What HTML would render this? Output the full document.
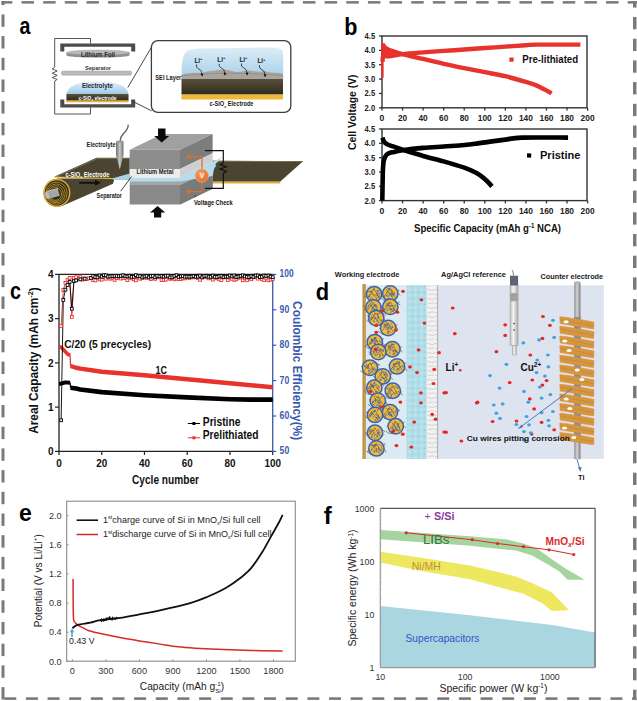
<!DOCTYPE html>
<html><head><meta charset="utf-8"><style>
html,body{margin:0;padding:0;background:#fff;width:637px;height:701px;overflow:hidden}
svg{display:block;font-family:"Liberation Sans", sans-serif}
</style></head><body>
<svg width="637" height="701" viewBox="0 0 637 701">
<rect width="637" height="701" fill="#fff"/>
<rect x="1.50" y="1.1" width="10.85" height="2.5" fill="#7a7a7a"/>
<rect x="21.50" y="1.1" width="12.50" height="2.5" fill="#7a7a7a"/>
<rect x="43.15" y="1.1" width="12.50" height="2.5" fill="#7a7a7a"/>
<rect x="64.80" y="1.1" width="12.50" height="2.5" fill="#7a7a7a"/>
<rect x="86.45" y="1.1" width="12.50" height="2.5" fill="#7a7a7a"/>
<rect x="108.10" y="1.1" width="12.50" height="2.5" fill="#7a7a7a"/>
<rect x="129.75" y="1.1" width="12.50" height="2.5" fill="#7a7a7a"/>
<rect x="151.40" y="1.1" width="12.50" height="2.5" fill="#7a7a7a"/>
<rect x="173.05" y="1.1" width="12.50" height="2.5" fill="#7a7a7a"/>
<rect x="194.70" y="1.1" width="12.50" height="2.5" fill="#7a7a7a"/>
<rect x="216.35" y="1.1" width="12.50" height="2.5" fill="#7a7a7a"/>
<rect x="238.00" y="1.1" width="12.50" height="2.5" fill="#7a7a7a"/>
<rect x="259.65" y="1.1" width="12.50" height="2.5" fill="#7a7a7a"/>
<rect x="281.30" y="1.1" width="12.50" height="2.5" fill="#7a7a7a"/>
<rect x="302.95" y="1.1" width="12.50" height="2.5" fill="#7a7a7a"/>
<rect x="324.60" y="1.1" width="12.50" height="2.5" fill="#7a7a7a"/>
<rect x="346.25" y="1.1" width="12.50" height="2.5" fill="#7a7a7a"/>
<rect x="367.90" y="1.1" width="12.50" height="2.5" fill="#7a7a7a"/>
<rect x="389.55" y="1.1" width="12.50" height="2.5" fill="#7a7a7a"/>
<rect x="411.20" y="1.1" width="12.50" height="2.5" fill="#7a7a7a"/>
<rect x="432.85" y="1.1" width="12.50" height="2.5" fill="#7a7a7a"/>
<rect x="454.50" y="1.1" width="12.50" height="2.5" fill="#7a7a7a"/>
<rect x="476.15" y="1.1" width="12.50" height="2.5" fill="#7a7a7a"/>
<rect x="497.80" y="1.1" width="12.50" height="2.5" fill="#7a7a7a"/>
<rect x="519.45" y="1.1" width="12.50" height="2.5" fill="#7a7a7a"/>
<rect x="541.10" y="1.1" width="12.50" height="2.5" fill="#7a7a7a"/>
<rect x="562.75" y="1.1" width="12.50" height="2.5" fill="#7a7a7a"/>
<rect x="584.40" y="1.1" width="12.50" height="2.5" fill="#7a7a7a"/>
<rect x="606.05" y="1.1" width="12.50" height="2.5" fill="#7a7a7a"/>
<rect x="627.70" y="1.1" width="9.30" height="2.5" fill="#7a7a7a"/>
<rect x="1.5" y="1.10" width="3" height="4.00" fill="#7a7a7a"/>
<rect x="1.5" y="14.40" width="3" height="12.40" fill="#7a7a7a"/>
<rect x="1.5" y="36.10" width="3" height="12.40" fill="#7a7a7a"/>
<rect x="1.5" y="57.80" width="3" height="12.40" fill="#7a7a7a"/>
<rect x="1.5" y="79.50" width="3" height="12.40" fill="#7a7a7a"/>
<rect x="1.5" y="101.20" width="3" height="12.40" fill="#7a7a7a"/>
<rect x="1.5" y="122.90" width="3" height="12.40" fill="#7a7a7a"/>
<rect x="1.5" y="144.60" width="3" height="12.40" fill="#7a7a7a"/>
<rect x="1.5" y="166.30" width="3" height="12.40" fill="#7a7a7a"/>
<rect x="1.5" y="188.00" width="3" height="12.40" fill="#7a7a7a"/>
<rect x="1.5" y="209.70" width="3" height="12.40" fill="#7a7a7a"/>
<rect x="1.5" y="231.40" width="3" height="12.40" fill="#7a7a7a"/>
<rect x="1.5" y="253.10" width="3" height="12.40" fill="#7a7a7a"/>
<rect x="1.5" y="274.80" width="3" height="12.40" fill="#7a7a7a"/>
<rect x="1.5" y="296.50" width="3" height="12.40" fill="#7a7a7a"/>
<rect x="1.5" y="318.20" width="3" height="12.40" fill="#7a7a7a"/>
<rect x="1.5" y="339.90" width="3" height="12.40" fill="#7a7a7a"/>
<rect x="1.5" y="361.60" width="3" height="12.40" fill="#7a7a7a"/>
<rect x="1.5" y="383.30" width="3" height="12.40" fill="#7a7a7a"/>
<rect x="1.5" y="405.00" width="3" height="12.40" fill="#7a7a7a"/>
<rect x="1.5" y="426.70" width="3" height="12.40" fill="#7a7a7a"/>
<rect x="1.5" y="448.40" width="3" height="12.40" fill="#7a7a7a"/>
<rect x="1.5" y="470.10" width="3" height="12.40" fill="#7a7a7a"/>
<rect x="1.5" y="491.80" width="3" height="12.40" fill="#7a7a7a"/>
<rect x="1.5" y="513.50" width="3" height="12.40" fill="#7a7a7a"/>
<rect x="1.5" y="535.20" width="3" height="12.40" fill="#7a7a7a"/>
<rect x="1.5" y="556.90" width="3" height="12.40" fill="#7a7a7a"/>
<rect x="1.5" y="578.60" width="3" height="12.40" fill="#7a7a7a"/>
<rect x="1.5" y="600.30" width="3" height="12.40" fill="#7a7a7a"/>
<rect x="1.5" y="622.00" width="3" height="12.40" fill="#7a7a7a"/>
<rect x="1.5" y="643.70" width="3" height="12.40" fill="#7a7a7a"/>
<rect x="1.5" y="665.40" width="3" height="12.40" fill="#7a7a7a"/>
<rect x="1.5" y="687.10" width="3" height="12.40" fill="#7a7a7a"/>
<rect x="633" y="1.10" width="3.5" height="6.50" fill="#7a7a7a"/>
<rect x="633" y="17.00" width="3.5" height="12.30" fill="#7a7a7a"/>
<rect x="633" y="38.70" width="3.5" height="12.30" fill="#7a7a7a"/>
<rect x="633" y="60.40" width="3.5" height="12.30" fill="#7a7a7a"/>
<rect x="633" y="82.10" width="3.5" height="12.30" fill="#7a7a7a"/>
<rect x="633" y="103.80" width="3.5" height="12.30" fill="#7a7a7a"/>
<rect x="633" y="125.50" width="3.5" height="12.30" fill="#7a7a7a"/>
<rect x="633" y="147.20" width="3.5" height="12.30" fill="#7a7a7a"/>
<rect x="633" y="168.90" width="3.5" height="12.30" fill="#7a7a7a"/>
<rect x="633" y="190.60" width="3.5" height="12.30" fill="#7a7a7a"/>
<rect x="633" y="212.30" width="3.5" height="12.30" fill="#7a7a7a"/>
<rect x="633" y="234.00" width="3.5" height="12.30" fill="#7a7a7a"/>
<rect x="633" y="255.70" width="3.5" height="12.30" fill="#7a7a7a"/>
<rect x="633" y="277.40" width="3.5" height="12.30" fill="#7a7a7a"/>
<rect x="633" y="299.10" width="3.5" height="12.30" fill="#7a7a7a"/>
<rect x="633" y="320.80" width="3.5" height="12.30" fill="#7a7a7a"/>
<rect x="633" y="342.50" width="3.5" height="12.30" fill="#7a7a7a"/>
<rect x="633" y="364.20" width="3.5" height="12.30" fill="#7a7a7a"/>
<rect x="633" y="385.90" width="3.5" height="12.30" fill="#7a7a7a"/>
<rect x="633" y="407.60" width="3.5" height="12.30" fill="#7a7a7a"/>
<rect x="633" y="429.30" width="3.5" height="12.30" fill="#7a7a7a"/>
<rect x="633" y="451.00" width="3.5" height="12.30" fill="#7a7a7a"/>
<rect x="633" y="472.70" width="3.5" height="12.30" fill="#7a7a7a"/>
<rect x="633" y="494.40" width="3.5" height="12.30" fill="#7a7a7a"/>
<rect x="633" y="516.10" width="3.5" height="12.30" fill="#7a7a7a"/>
<rect x="633" y="537.80" width="3.5" height="12.30" fill="#7a7a7a"/>
<rect x="633" y="559.50" width="3.5" height="12.30" fill="#7a7a7a"/>
<rect x="633" y="581.20" width="3.5" height="12.30" fill="#7a7a7a"/>
<rect x="633" y="602.90" width="3.5" height="12.30" fill="#7a7a7a"/>
<rect x="633" y="624.60" width="3.5" height="12.30" fill="#7a7a7a"/>
<rect x="633" y="646.30" width="3.5" height="12.30" fill="#7a7a7a"/>
<rect x="633" y="668.00" width="3.5" height="12.30" fill="#7a7a7a"/>
<rect x="633" y="689.70" width="3.5" height="10.20" fill="#7a7a7a"/>
<rect x="4.25" y="697.3" width="12.00" height="2.6" fill="#7a7a7a"/>
<rect x="25.90" y="697.3" width="12.00" height="2.6" fill="#7a7a7a"/>
<rect x="47.55" y="697.3" width="12.00" height="2.6" fill="#7a7a7a"/>
<rect x="69.20" y="697.3" width="12.00" height="2.6" fill="#7a7a7a"/>
<rect x="90.85" y="697.3" width="12.00" height="2.6" fill="#7a7a7a"/>
<rect x="112.50" y="697.3" width="12.00" height="2.6" fill="#7a7a7a"/>
<rect x="134.15" y="697.3" width="12.00" height="2.6" fill="#7a7a7a"/>
<rect x="155.80" y="697.3" width="12.00" height="2.6" fill="#7a7a7a"/>
<rect x="177.45" y="697.3" width="12.00" height="2.6" fill="#7a7a7a"/>
<rect x="199.10" y="697.3" width="12.00" height="2.6" fill="#7a7a7a"/>
<rect x="220.75" y="697.3" width="12.00" height="2.6" fill="#7a7a7a"/>
<rect x="242.40" y="697.3" width="12.00" height="2.6" fill="#7a7a7a"/>
<rect x="264.05" y="697.3" width="12.00" height="2.6" fill="#7a7a7a"/>
<rect x="285.70" y="697.3" width="12.00" height="2.6" fill="#7a7a7a"/>
<rect x="307.35" y="697.3" width="12.00" height="2.6" fill="#7a7a7a"/>
<rect x="329.00" y="697.3" width="12.00" height="2.6" fill="#7a7a7a"/>
<rect x="350.65" y="697.3" width="12.00" height="2.6" fill="#7a7a7a"/>
<rect x="372.30" y="697.3" width="12.00" height="2.6" fill="#7a7a7a"/>
<rect x="393.95" y="697.3" width="12.00" height="2.6" fill="#7a7a7a"/>
<rect x="415.60" y="697.3" width="12.00" height="2.6" fill="#7a7a7a"/>
<rect x="437.25" y="697.3" width="12.00" height="2.6" fill="#7a7a7a"/>
<rect x="458.90" y="697.3" width="12.00" height="2.6" fill="#7a7a7a"/>
<rect x="480.55" y="697.3" width="12.00" height="2.6" fill="#7a7a7a"/>
<rect x="502.20" y="697.3" width="12.00" height="2.6" fill="#7a7a7a"/>
<rect x="523.85" y="697.3" width="12.00" height="2.6" fill="#7a7a7a"/>
<rect x="545.50" y="697.3" width="12.00" height="2.6" fill="#7a7a7a"/>
<rect x="567.15" y="697.3" width="12.00" height="2.6" fill="#7a7a7a"/>
<rect x="588.80" y="697.3" width="12.00" height="2.6" fill="#7a7a7a"/>
<rect x="610.45" y="697.3" width="12.00" height="2.6" fill="#7a7a7a"/>
<rect x="632.10" y="697.3" width="4.40" height="2.6" fill="#7a7a7a"/>
<text x="19.6" y="34.3" font-size="23" font-weight="bold" fill="#000" text-anchor="start" textLength="10.9" lengthAdjust="spacingAndGlyphs" >a</text>
<text x="344.3" y="34.8" font-size="24" font-weight="bold" fill="#000" text-anchor="start" textLength="13.2" lengthAdjust="spacingAndGlyphs" >b</text>
<text x="10" y="299.4" font-size="23" font-weight="bold" fill="#000" text-anchor="start" textLength="11" lengthAdjust="spacingAndGlyphs" >c</text>
<text x="315.8" y="299.9" font-size="23" font-weight="bold" fill="#000" text-anchor="start" textLength="13.4" lengthAdjust="spacingAndGlyphs" >d</text>
<text x="19" y="521.2" font-size="23.5" font-weight="bold" fill="#000" text-anchor="start" textLength="12.8" lengthAdjust="spacingAndGlyphs" >e</text>
<text x="323.8" y="524.1" font-size="24.5" font-weight="bold" fill="#000" text-anchor="start" textLength="8" lengthAdjust="spacingAndGlyphs" >f</text>
<defs>
<linearGradient id="gFoil" x1="0" y1="0" x2="0" y2="1"><stop offset="0" stop-color="#d8d8d8"/><stop offset="0.5" stop-color="#a8a8a8"/><stop offset="1" stop-color="#8a8a8a"/></linearGradient>
<linearGradient id="gElyte" x1="0" y1="0" x2="0" y2="1"><stop offset="0" stop-color="#e4f1fa"/><stop offset="1" stop-color="#9ccbe9"/></linearGradient>
<linearGradient id="gElyte2" x1="0" y1="0" x2="0" y2="1"><stop offset="0" stop-color="#dcecf7"/><stop offset="1" stop-color="#a6cfea"/></linearGradient>
<linearGradient id="gElec" x1="0" y1="0" x2="0" y2="1"><stop offset="0" stop-color="#57503a"/><stop offset="1" stop-color="#2e2a1c"/></linearGradient>
<linearGradient id="gNoz" x1="0" y1="0" x2="1" y2="0"><stop offset="0" stop-color="#6e6e6e"/><stop offset="0.5" stop-color="#c8c8c8"/><stop offset="1" stop-color="#707070"/></linearGradient>
<radialGradient id="gVolt" cx="0.4" cy="0.35" r="0.7"><stop offset="0" stop-color="#f7a060"/><stop offset="1" stop-color="#e06a20"/></radialGradient>
</defs>
<path d="M90.5,43.6 V38.5 H54.7 V67.2 L52.2,68.8 L57.2,71 L52.2,73.2 L57.2,75.4 L52.2,77.6 L57.2,79.4 L54.7,81 V114 H90.5 V107" fill="none" stroke="#555" stroke-width="1"/>
<path d="M60.3,43.4 H135.2 V51.6 H131.2 V46.8 H64.3 V51.6 H60.3Z" fill="#4d4b4b"/>
<path d="M60.3,107.4 H135.2 V99.6 H131.2 V104.2 H64.3 V99.6 H60.3Z" fill="#4d4b4b"/>
<path d="M66.4,52.5 L66.4,55 C66.4,56.8 80,57.6 98,57.6 C116,57.6 129.5,56.8 129.5,55 L129.5,52.5Z" fill="#8f8f8f"/>
<ellipse cx="98" cy="52.6" rx="31.6" ry="2.5" fill="#b9b9b9" stroke="#9a9a9a" stroke-width="0.4"/>
<text x="98" y="57" font-size="6.3" font-weight="bold" fill="#2a2a2a" text-anchor="middle" textLength="34" lengthAdjust="spacingAndGlyphs" >Lithium Foil</text>
<text x="98" y="69.6" font-size="5.8" font-weight="bold" fill="#333" text-anchor="middle" textLength="26" lengthAdjust="spacingAndGlyphs" >Separator</text>
<rect x="61.7" y="71.2" width="69.6" height="3.9" rx="1" fill="#c4c4c4" stroke="#8e8e8e" stroke-width="0.6"/>
<path d="M62.5,72.6 H130.5 M62.5,74 H130.5" stroke="#9a9a9a" stroke-width="0.6" stroke-dasharray="0.8,0.8"/>
<path d="M66.4,94.2 C68,85 80,81.6 97.5,81.6 C115,81.6 127,85 128.5,94.2Z" fill="url(#gElyte)"/>
<text x="97.5" y="88" font-size="6.5" font-weight="bold" fill="#1f2a36" text-anchor="middle" textLength="31" lengthAdjust="spacingAndGlyphs" >Electrolyte</text>
<rect x="66.4" y="94" width="62.1" height="6.8" fill="url(#gElec)"/>
<rect x="66.4" y="100.4" width="62.1" height="1.9" fill="#e6b43a"/>
<text x="97.5" y="100.4" font-size="5.8" font-weight="bold" fill="#fff" text-anchor="middle" textLength="38" lengthAdjust="spacingAndGlyphs" >c-SiO<tspan font-size="3.8" dy="1">x</tspan><tspan dy="-1"> electrode</tspan></text>
<path d="M127.8,87.5 L151.6,47" stroke="#333" stroke-width="0.9" fill="none"/>
<path d="M131.5,100.8 L151.6,110.8" stroke="#333" stroke-width="0.9" fill="none"/>
<rect x="151.4" y="40.6" width="139.4" height="71.8" rx="6.5" fill="#fff" stroke="#3d3d3d" stroke-width="1.3"/>
<path d="M182,79 C181,68 182,56 186,52 C189,49 194,48.6 205,48.4 L262,47.6 C276,47.4 281,48 282.6,51 C283.5,56 283.2,68 283.2,79Z" fill="url(#gElyte2)"/>
<path d="M181.5,80 L181.5,75 C184,73 188,73.5 192,73 C196,72.5 200,73.5 204,72.5 C210,70.5 214,71 218,70 C222,69 228,69.5 232,71 C236,72.5 240,72 244,71 C248,70 252,71 256,71.5 C260,72 264,71 268,72 C272,73 276,72.5 280,73 L283,74 L283,80Z" fill="#aaa59c"/>
<path d="M181.5,76 L190,75 L200,74.2 L212,73.5 L230,73.2 L250,73.5 L270,74.5 L283,75.6" stroke="#8a857c" stroke-width="1" fill="none" stroke-dasharray="1.5,1"/>
<rect x="181.5" y="79" width="101.5" height="15.6" fill="url(#gElec)"/>
<rect x="181.5" y="94.5" width="101.5" height="5" fill="#eeb936"/>
<text x="155.3" y="80.2" font-size="6.8" font-weight="bold" fill="#1a1a1a" text-anchor="start" textLength="26" lengthAdjust="spacingAndGlyphs" >SEI Layer</text>
<text x="209.5" y="106.3" font-size="6.8" font-weight="bold" fill="#1a1a1a" textLength="44" lengthAdjust="spacingAndGlyphs">c-SiO<tspan font-size="4.3" dy="1.3">x</tspan><tspan dy="-1.3"> Electrode</tspan></text>
<text x="194.5" y="62.5" font-size="6.3" font-weight="bold" fill="#1a1a1a">Li<tspan font-size="4" dy="-2.5">+</tspan></text>
<path d="M196.5,64.5 C195.5,69.5 201.5,68.5 201.5,72.5 L202.0,74.5" stroke="#111" stroke-width="0.8" fill="none"/><path d="M200.5,74.0 L202.3,76.5 L203.5,73.5Z" fill="#111"/>
<text x="217.3" y="61.8" font-size="6.3" font-weight="bold" fill="#1a1a1a">Li<tspan font-size="4" dy="-2.5">+</tspan></text>
<path d="M219.3,63.8 C218.3,68.8 224.3,67.8 224.3,71.8 L224.8,73.8" stroke="#111" stroke-width="0.8" fill="none"/><path d="M223.3,73.3 L225.10000000000002,75.8 L226.3,72.8Z" fill="#111"/>
<text x="239.5" y="61.5" font-size="6.3" font-weight="bold" fill="#1a1a1a">Li<tspan font-size="4" dy="-2.5">+</tspan></text>
<path d="M241.5,63.5 C240.5,68.5 246.5,67.5 246.5,71.5 L247.0,73.5" stroke="#111" stroke-width="0.8" fill="none"/><path d="M245.5,73.0 L247.3,75.5 L248.5,72.5Z" fill="#111"/>
<text x="257.5" y="63.2" font-size="6.3" font-weight="bold" fill="#1a1a1a">Li<tspan font-size="4" dy="-2.5">+</tspan></text>
<path d="M259.5,65.2 C258.5,70.2 264.5,69.2 264.5,73.2 L265.0,75.2" stroke="#111" stroke-width="0.8" fill="none"/><path d="M263.5,74.7 L265.3,77.2 L266.5,74.2Z" fill="#111"/>
<path d="M54.2,176.8 L96.5,157.8 H129.7 V179.5 H114.6Z" fill="#4a4430"/>
<path d="M57,176.2 L97.5,158.6 H129.7" stroke="#8b8360" stroke-width="0.7" fill="none"/>
<path d="M56.8,178.6 H114.6 L113,183.7 L62,206 L56.8,206Z" fill="#4a4430"/>
<path d="M54.2,177 L114.6,178.6 L129.7,178.8" stroke="#e2b030" stroke-width="1.2" fill="none"/>
<ellipse cx="56.9" cy="192.8" rx="13.3" ry="13.9" fill="#2f2c1c"/>
<ellipse cx="56.9" cy="192.8" rx="12.8" ry="13.4" fill="none" stroke="#dcaa2e" stroke-width="1.5"/>
<ellipse cx="56.55" cy="193.10" rx="10.6" ry="11.13" fill="none" stroke="#c99a2a" stroke-width="0.8"/>
<ellipse cx="56.20" cy="193.40" rx="9.0" ry="9.45" fill="none" stroke="#c99a2a" stroke-width="0.8"/>
<ellipse cx="55.85" cy="193.70" rx="7.5" ry="7.88" fill="none" stroke="#c99a2a" stroke-width="0.8"/>
<ellipse cx="55.50" cy="194.00" rx="6.0" ry="6.30" fill="none" stroke="#c99a2a" stroke-width="0.8"/>
<path d="M46.4,191.7 L57.8,188.5 L59.8,195.7 L48.4,198.9Z" fill="#a6a6a6"/>
<path d="M46.4,191.7 L57.8,188.5" stroke="#c8c8c8" stroke-width="1"/>
<ellipse cx="47.4" cy="195.3" rx="2.3" ry="3.8" transform="rotate(-15 47.4 195.3)" fill="#bcbcbc" stroke="#8a8a8a" stroke-width="0.4"/>
<path d="M79.2,182.8 H96" stroke="#111" stroke-width="1.8"/><path d="M95,179.8 L101,182.8 L95,185.8Z" fill="#111"/>
<text x="65.4" y="176.6" font-size="7" font-weight="bold" fill="#fff" textLength="44" lengthAdjust="spacingAndGlyphs">c-SiO<tspan font-size="4.4" dy="1.3">x</tspan><tspan dy="-1.3"> Electrode</tspan></text>
<path d="M112,178.4 L129.7,173.5 V179.8 L114,180Z" fill="#a9d4e0"/>
<path d="M210.4,181.5 H280.3 L280.3,183.6 H210.4Z" fill="#e2b030"/>
<path d="M212.6,160.8 L303.3,161.1 L280.3,181.5 H212.6Z" fill="#4a4430"/>
<path d="M212.6,161.2 L302,161.6" stroke="#857c58" stroke-width="0.8"/>
<path d="M129.7,185 H180 L212.6,169.3 V188.7 L180,204.4 H129.7Z" fill="#8a8a8a"/>
<path d="M180,185 L212.6,169.3 V188.7 L180,204.4Z" fill="#7a7a7a"/>
<path d="M129.7,180 H180 L212.6,164.3 V169.3 L180,185 H129.7Z" fill="#a5a5a5"/>
<path d="M129.7,177.4 H180 L212.6,161.7 L222,157.5 C219,162 214,163 216,166 C213,169 214,172 212.6,176 L180,181.5 H129.7Z" fill="#b6dcec"/>
<path d="M129.7,149.8 L162.3,134.1 H212.6 L180,149.8Z" fill="#a0a0a0"/>
<rect x="129.7" y="149.8" width="50.3" height="19.2" fill="#8d8d8d"/>
<path d="M180,149.8 L212.6,134.1 V153.3 L180,169Z" fill="#7d7d7d"/>
<rect x="129.7" y="169" width="50.3" height="8.4" fill="#ececec"/>
<path d="M180,169 L212.6,153.3 V161.7 L180,177.4Z" fill="#cfcfcf"/>
<text x="155" y="174.4" font-size="7" font-weight="bold" fill="#1a1a1a" text-anchor="middle" textLength="37" lengthAdjust="spacingAndGlyphs" >Lithium Metal</text>
<path d="M128.2,124.7 C128.5,131 122,133 120.5,138.5 L120.5,142" stroke="#666" stroke-width="1.4" fill="none"/>
<path d="M116,141.7 H123.5 V155 L119.8,169.5 L116,155Z" fill="url(#gNoz)"/>
<ellipse cx="119.75" cy="141.7" rx="3.75" ry="1.2" fill="#9a9a9a"/>
<text x="86.6" y="147.3" font-size="7" font-weight="bold" fill="#1a1a1a" text-anchor="start" textLength="29" lengthAdjust="spacingAndGlyphs" >Electrolyte</text>
<text x="96.5" y="197.6" font-size="6.8" font-weight="bold" fill="#1a1a1a" text-anchor="start" textLength="25.5" lengthAdjust="spacingAndGlyphs" >Separator</text>
<path d="M120.7,191.2 L131.6,176.5" stroke="#111" stroke-width="0.8"/>
<path d="M158,128.5 H165.5 V136 H169.2 L161.7,142.6 L154.2,136 H158Z" fill="#0a0a0a"/>
<path d="M154,217.4 V212.4 H150 L157.6,205.9 L165.2,212.4 H161.2 V217.4Z" fill="#0a0a0a"/>
<path d="M205,150.6 H223.3 V163 L220.3,164.6 L226.3,166.8 L220.3,169 L226.3,171.2 L223.3,173.6 V188.4 H205" fill="none" stroke="#111" stroke-width="1.2"/>
<path d="M188.8,156.7 H202 V169 M202,182 V191.6 H188.8" fill="none" stroke="#d9712e" stroke-width="1.2"/>
<circle cx="188.8" cy="156.7" r="2" fill="#d9712e"/><circle cx="188.8" cy="191.6" r="2" fill="#d9712e"/>
<circle cx="201.8" cy="175.6" r="6.6" fill="url(#gVolt)" stroke="#f2b080" stroke-width="0.8"/>
<text x="201.8" y="178.2" font-size="6.5" font-weight="bold" fill="#fff" text-anchor="middle">V</text>
<text x="194" y="204.5" font-size="7.6" font-weight="bold" fill="#111" text-anchor="start" textLength="38.6" lengthAdjust="spacingAndGlyphs" >Voltage Check</text>
<circle cx="195.2" cy="196.3" r="0.7" fill="#222"/>
<rect x="382" y="36" width="205" height="71.80" fill="none" stroke="#333" stroke-width="1.4"/>
<line x1="379" y1="36.00" x2="382" y2="36.00" stroke="#333" stroke-width="1.3"/>
<text x="375.2" y="38.9" font-size="8.4" font-weight="bold" fill="#222" text-anchor="end" textLength="10.6" lengthAdjust="spacingAndGlyphs" >4.5</text>
<line x1="379" y1="50.36" x2="382" y2="50.36" stroke="#333" stroke-width="1.3"/>
<text x="375.2" y="53.26" font-size="8.4" font-weight="bold" fill="#222" text-anchor="end" textLength="10.6" lengthAdjust="spacingAndGlyphs" >4.0</text>
<line x1="379" y1="64.72" x2="382" y2="64.72" stroke="#333" stroke-width="1.3"/>
<text x="375.2" y="67.62" font-size="8.4" font-weight="bold" fill="#222" text-anchor="end" textLength="10.6" lengthAdjust="spacingAndGlyphs" >3.5</text>
<line x1="379" y1="79.08" x2="382" y2="79.08" stroke="#333" stroke-width="1.3"/>
<text x="375.2" y="81.98" font-size="8.4" font-weight="bold" fill="#222" text-anchor="end" textLength="10.6" lengthAdjust="spacingAndGlyphs" >3.0</text>
<line x1="379" y1="93.44" x2="382" y2="93.44" stroke="#333" stroke-width="1.3"/>
<text x="375.2" y="96.34" font-size="8.4" font-weight="bold" fill="#222" text-anchor="end" textLength="10.6" lengthAdjust="spacingAndGlyphs" >2.5</text>
<line x1="379" y1="107.80" x2="382" y2="107.80" stroke="#333" stroke-width="1.3"/>
<text x="375.2" y="110.7" font-size="8.4" font-weight="bold" fill="#222" text-anchor="end" textLength="10.6" lengthAdjust="spacingAndGlyphs" >2.0</text>
<line x1="382.00" y1="107.8" x2="382.00" y2="110.6" stroke="#333" stroke-width="1.3"/>
<text x="382.0" y="120.7" font-size="8.4" font-weight="bold" fill="#222" text-anchor="middle" textLength="4.8" lengthAdjust="spacingAndGlyphs" >0</text>
<line x1="402.56" y1="107.8" x2="402.56" y2="110.6" stroke="#333" stroke-width="1.3"/>
<text x="402.56" y="120.7" font-size="8.4" font-weight="bold" fill="#222" text-anchor="middle" textLength="9.2" lengthAdjust="spacingAndGlyphs" >20</text>
<line x1="423.12" y1="107.8" x2="423.12" y2="110.6" stroke="#333" stroke-width="1.3"/>
<text x="423.12" y="120.7" font-size="8.4" font-weight="bold" fill="#222" text-anchor="middle" textLength="9.2" lengthAdjust="spacingAndGlyphs" >40</text>
<line x1="443.68" y1="107.8" x2="443.68" y2="110.6" stroke="#333" stroke-width="1.3"/>
<text x="443.68" y="120.7" font-size="8.4" font-weight="bold" fill="#222" text-anchor="middle" textLength="9.2" lengthAdjust="spacingAndGlyphs" >60</text>
<line x1="464.24" y1="107.8" x2="464.24" y2="110.6" stroke="#333" stroke-width="1.3"/>
<text x="464.24" y="120.7" font-size="8.4" font-weight="bold" fill="#222" text-anchor="middle" textLength="9.2" lengthAdjust="spacingAndGlyphs" >80</text>
<line x1="484.80" y1="107.8" x2="484.80" y2="110.6" stroke="#333" stroke-width="1.3"/>
<text x="484.8" y="120.7" font-size="8.4" font-weight="bold" fill="#222" text-anchor="middle" textLength="14" lengthAdjust="spacingAndGlyphs" >100</text>
<line x1="505.36" y1="107.8" x2="505.36" y2="110.6" stroke="#333" stroke-width="1.3"/>
<text x="505.36" y="120.7" font-size="8.4" font-weight="bold" fill="#222" text-anchor="middle" textLength="14" lengthAdjust="spacingAndGlyphs" >120</text>
<line x1="525.92" y1="107.8" x2="525.92" y2="110.6" stroke="#333" stroke-width="1.3"/>
<text x="525.9200000000001" y="120.7" font-size="8.4" font-weight="bold" fill="#222" text-anchor="middle" textLength="14" lengthAdjust="spacingAndGlyphs" >140</text>
<line x1="546.48" y1="107.8" x2="546.48" y2="110.6" stroke="#333" stroke-width="1.3"/>
<text x="546.48" y="120.7" font-size="8.4" font-weight="bold" fill="#222" text-anchor="middle" textLength="14" lengthAdjust="spacingAndGlyphs" >160</text>
<line x1="567.04" y1="107.8" x2="567.04" y2="110.6" stroke="#333" stroke-width="1.3"/>
<text x="567.04" y="120.7" font-size="8.4" font-weight="bold" fill="#222" text-anchor="middle" textLength="14" lengthAdjust="spacingAndGlyphs" >180</text>
<line x1="587.60" y1="107.8" x2="587.60" y2="110.6" stroke="#333" stroke-width="1.3"/>
<text x="587.6" y="120.7" font-size="8.4" font-weight="bold" fill="#222" text-anchor="middle" textLength="14" lengthAdjust="spacingAndGlyphs" >200</text>
<path d="M382.41,77.64 L382.51,43.18" stroke="#e8322c" stroke-width="2.4" fill="none"/>
<path d="M382.51,61.85 C382.63,60.89 382.46,57.01 383.23,56.10 C384.00,55.19 385.63,56.44 387.14,56.39 C388.65,56.34 389.71,56.20 392.28,55.82 C394.85,55.43 397.42,54.67 402.56,54.09 C407.70,53.52 416.27,52.90 423.12,52.37 C429.97,51.84 436.83,51.41 443.68,50.93 C450.53,50.46 457.39,49.98 464.24,49.50 C471.09,49.02 477.95,48.54 484.80,48.06 C491.65,47.58 498.51,47.11 505.36,46.63 C512.21,46.15 520.78,45.53 525.92,45.19 C531.06,44.86 527.12,44.71 536.20,44.62 C545.28,44.52 573.04,44.62 580.40,44.62" stroke="#e8322c" stroke-width="4.4" fill="none"/>
<path d="M382.41,44.04 C382.86,44.62 384.12,46.58 385.08,47.49 C386.04,48.40 386.97,48.92 388.17,49.50 C389.37,50.07 389.88,50.17 392.28,50.93 C394.68,51.70 397.42,52.75 402.56,54.09 C407.70,55.43 416.27,57.35 423.12,58.98 C429.97,60.60 436.83,62.33 443.68,63.86 C450.53,65.39 457.39,66.78 464.24,68.17 C471.09,69.55 477.95,70.85 484.80,72.19 C491.65,73.53 498.51,74.58 505.36,76.21 C512.21,77.84 520.78,80.42 525.92,81.95 C531.06,83.48 533.12,84.15 536.20,85.40 C539.28,86.64 541.85,88.08 544.42,89.42 C546.99,90.76 550.42,92.77 551.62,93.44" stroke="#e8322c" stroke-width="4.4" fill="none"/>
<path d="M382.41,44.04 L385.08,47.49 L388.17,49.50 L392.28,50.93 L397.42,52.37 L402.56,54.09 L397.42,54.96 L392.28,55.82 L387.14,56.39 L383.23,56.10Z" fill="#e8322c"/>
<rect x="509.4" y="57.5" width="4.2" height="4.2" fill="#e8322c"/>
<text x="522.2" y="63" font-size="11" font-weight="bold" fill="#111" text-anchor="start" textLength="56" lengthAdjust="spacingAndGlyphs" >Pre-lithiated</text>
<rect x="382" y="129" width="205" height="71.60" fill="none" stroke="#333" stroke-width="1.4"/>
<line x1="379" y1="129.00" x2="382" y2="129.00" stroke="#333" stroke-width="1.3"/>
<text x="375.2" y="131.9" font-size="8.4" font-weight="bold" fill="#222" text-anchor="end" textLength="10.6" lengthAdjust="spacingAndGlyphs" >4.5</text>
<line x1="379" y1="143.32" x2="382" y2="143.32" stroke="#333" stroke-width="1.3"/>
<text x="375.2" y="146.22" font-size="8.4" font-weight="bold" fill="#222" text-anchor="end" textLength="10.6" lengthAdjust="spacingAndGlyphs" >4.0</text>
<line x1="379" y1="157.64" x2="382" y2="157.64" stroke="#333" stroke-width="1.3"/>
<text x="375.2" y="160.54" font-size="8.4" font-weight="bold" fill="#222" text-anchor="end" textLength="10.6" lengthAdjust="spacingAndGlyphs" >3.5</text>
<line x1="379" y1="171.96" x2="382" y2="171.96" stroke="#333" stroke-width="1.3"/>
<text x="375.2" y="174.85999999999999" font-size="8.4" font-weight="bold" fill="#222" text-anchor="end" textLength="10.6" lengthAdjust="spacingAndGlyphs" >3.0</text>
<line x1="379" y1="186.28" x2="382" y2="186.28" stroke="#333" stroke-width="1.3"/>
<text x="375.2" y="189.18" font-size="8.4" font-weight="bold" fill="#222" text-anchor="end" textLength="10.6" lengthAdjust="spacingAndGlyphs" >2.5</text>
<line x1="379" y1="200.60" x2="382" y2="200.60" stroke="#333" stroke-width="1.3"/>
<text x="375.2" y="203.5" font-size="8.4" font-weight="bold" fill="#222" text-anchor="end" textLength="10.6" lengthAdjust="spacingAndGlyphs" >2.0</text>
<line x1="382.00" y1="200.6" x2="382.00" y2="203.4" stroke="#333" stroke-width="1.3"/>
<text x="382.0" y="213.5" font-size="8.4" font-weight="bold" fill="#222" text-anchor="middle" textLength="4.8" lengthAdjust="spacingAndGlyphs" >0</text>
<line x1="402.56" y1="200.6" x2="402.56" y2="203.4" stroke="#333" stroke-width="1.3"/>
<text x="402.56" y="213.5" font-size="8.4" font-weight="bold" fill="#222" text-anchor="middle" textLength="9.2" lengthAdjust="spacingAndGlyphs" >20</text>
<line x1="423.12" y1="200.6" x2="423.12" y2="203.4" stroke="#333" stroke-width="1.3"/>
<text x="423.12" y="213.5" font-size="8.4" font-weight="bold" fill="#222" text-anchor="middle" textLength="9.2" lengthAdjust="spacingAndGlyphs" >40</text>
<line x1="443.68" y1="200.6" x2="443.68" y2="203.4" stroke="#333" stroke-width="1.3"/>
<text x="443.68" y="213.5" font-size="8.4" font-weight="bold" fill="#222" text-anchor="middle" textLength="9.2" lengthAdjust="spacingAndGlyphs" >60</text>
<line x1="464.24" y1="200.6" x2="464.24" y2="203.4" stroke="#333" stroke-width="1.3"/>
<text x="464.24" y="213.5" font-size="8.4" font-weight="bold" fill="#222" text-anchor="middle" textLength="9.2" lengthAdjust="spacingAndGlyphs" >80</text>
<line x1="484.80" y1="200.6" x2="484.80" y2="203.4" stroke="#333" stroke-width="1.3"/>
<text x="484.8" y="213.5" font-size="8.4" font-weight="bold" fill="#222" text-anchor="middle" textLength="14" lengthAdjust="spacingAndGlyphs" >100</text>
<line x1="505.36" y1="200.6" x2="505.36" y2="203.4" stroke="#333" stroke-width="1.3"/>
<text x="505.36" y="213.5" font-size="8.4" font-weight="bold" fill="#222" text-anchor="middle" textLength="14" lengthAdjust="spacingAndGlyphs" >120</text>
<line x1="525.92" y1="200.6" x2="525.92" y2="203.4" stroke="#333" stroke-width="1.3"/>
<text x="525.9200000000001" y="213.5" font-size="8.4" font-weight="bold" fill="#222" text-anchor="middle" textLength="14" lengthAdjust="spacingAndGlyphs" >140</text>
<line x1="546.48" y1="200.6" x2="546.48" y2="203.4" stroke="#333" stroke-width="1.3"/>
<text x="546.48" y="213.5" font-size="8.4" font-weight="bold" fill="#222" text-anchor="middle" textLength="14" lengthAdjust="spacingAndGlyphs" >160</text>
<line x1="567.04" y1="200.6" x2="567.04" y2="203.4" stroke="#333" stroke-width="1.3"/>
<text x="567.04" y="213.5" font-size="8.4" font-weight="bold" fill="#222" text-anchor="middle" textLength="14" lengthAdjust="spacingAndGlyphs" >180</text>
<line x1="587.60" y1="200.6" x2="587.60" y2="203.4" stroke="#333" stroke-width="1.3"/>
<text x="587.6" y="213.5" font-size="8.4" font-weight="bold" fill="#222" text-anchor="middle" textLength="14" lengthAdjust="spacingAndGlyphs" >200</text>
<path d="M382.31,200.60 C382.39,195.83 382.62,178.40 382.82,171.96 C383.03,165.52 383.17,164.42 383.54,161.94 C383.92,159.45 384.48,158.36 385.08,157.07 C385.68,155.78 386.28,154.92 387.14,154.20 C388.00,153.49 389.02,153.15 390.22,152.77 C391.42,152.39 392.28,152.34 394.34,151.91 C396.39,151.48 397.76,150.86 402.56,150.19 C407.36,149.53 416.27,148.52 423.12,147.90 C429.97,147.28 436.83,146.95 443.68,146.47 C450.53,145.99 458.76,145.52 464.24,145.04 C469.72,144.56 472.29,144.18 476.58,143.61 C480.86,143.03 485.14,142.27 489.94,141.60 C494.74,140.93 500.05,140.27 505.36,139.60 C510.67,138.93 511.36,137.93 521.81,137.59 C532.26,137.26 560.36,137.59 568.07,137.59" stroke="#000" stroke-width="4.6" fill="none"/>
<path d="M382.41,137.59 C382.69,138.31 383.27,140.79 384.06,141.89 C384.84,142.99 385.77,143.46 387.14,144.18 C388.51,144.90 389.71,145.28 392.28,146.18 C394.85,147.09 397.42,148.00 402.56,149.62 C407.70,151.24 416.27,153.96 423.12,155.92 C429.97,157.88 436.83,159.41 443.68,161.36 C450.53,163.32 458.76,165.71 464.24,167.66 C469.72,169.62 473.15,171.20 476.58,173.11 C480.00,175.01 482.23,176.92 484.80,179.12 C487.37,181.32 490.80,185.09 492.00,186.28" stroke="#000" stroke-width="4.6" fill="none"/>
<rect x="527" y="153.4" width="4.2" height="4.2" fill="#000"/>
<text x="540" y="159.2" font-size="11" font-weight="bold" fill="#111" text-anchor="start" textLength="40.5" lengthAdjust="spacingAndGlyphs" >Pristine</text>
<text x="0" y="0" font-size="11.5" font-weight="bold" fill="#111" text-anchor="middle" textLength="75.5" lengthAdjust="spacingAndGlyphs" transform="translate(356,112.2) rotate(-90)">Cell Voltage (V)</text>
<text x="414" y="232" font-size="11" font-weight="bold" fill="#111" textLength="147" lengthAdjust="spacingAndGlyphs">Specific Capacity (mAh g<tspan font-size="7" dy="-4.5">-1</tspan><tspan dy="4.5"> NCA)</tspan></text>
<line x1="59" y1="274.4" x2="272.7" y2="274.4" stroke="#222" stroke-width="1.2"/>
<line x1="59" y1="274.4" x2="59" y2="451.4" stroke="#222" stroke-width="1.3"/>
<line x1="59" y1="451.4" x2="272.7" y2="451.4" stroke="#222" stroke-width="1.3"/>
<line x1="272.7" y1="274.4" x2="272.7" y2="451.4" stroke="#3a5ab0" stroke-width="1.3"/>
<line x1="55" y1="451.40" x2="59" y2="451.40" stroke="#222" stroke-width="1.2"/>
<text x="53.6" y="455.09999999999997" font-size="10.2" font-weight="bold" fill="#111" text-anchor="end" textLength="5.6" lengthAdjust="spacingAndGlyphs" >0</text>
<line x1="55" y1="407.15" x2="59" y2="407.15" stroke="#222" stroke-width="1.2"/>
<text x="53.6" y="410.84999999999997" font-size="10.2" font-weight="bold" fill="#111" text-anchor="end" textLength="5.6" lengthAdjust="spacingAndGlyphs" >1</text>
<line x1="55" y1="362.90" x2="59" y2="362.90" stroke="#222" stroke-width="1.2"/>
<text x="53.6" y="366.59999999999997" font-size="10.2" font-weight="bold" fill="#111" text-anchor="end" textLength="5.6" lengthAdjust="spacingAndGlyphs" >2</text>
<line x1="55" y1="318.65" x2="59" y2="318.65" stroke="#222" stroke-width="1.2"/>
<text x="53.6" y="322.34999999999997" font-size="10.2" font-weight="bold" fill="#111" text-anchor="end" textLength="5.6" lengthAdjust="spacingAndGlyphs" >3</text>
<line x1="55" y1="274.40" x2="59" y2="274.40" stroke="#222" stroke-width="1.2"/>
<text x="53.6" y="278.09999999999997" font-size="10.2" font-weight="bold" fill="#111" text-anchor="end" textLength="5.6" lengthAdjust="spacingAndGlyphs" >4</text>
<line x1="59.00" y1="451.4" x2="59.00" y2="454.9" stroke="#222" stroke-width="1.2"/>
<text x="59.0" y="466.79999999999995" font-size="10" font-weight="bold" fill="#111" text-anchor="middle" textLength="5.6" lengthAdjust="spacingAndGlyphs" >0</text>
<line x1="101.74" y1="451.4" x2="101.74" y2="454.9" stroke="#222" stroke-width="1.2"/>
<text x="101.74000000000001" y="466.79999999999995" font-size="10" font-weight="bold" fill="#111" text-anchor="middle" textLength="11" lengthAdjust="spacingAndGlyphs" >20</text>
<line x1="144.48" y1="451.4" x2="144.48" y2="454.9" stroke="#222" stroke-width="1.2"/>
<text x="144.48000000000002" y="466.79999999999995" font-size="10" font-weight="bold" fill="#111" text-anchor="middle" textLength="11" lengthAdjust="spacingAndGlyphs" >40</text>
<line x1="187.22" y1="451.4" x2="187.22" y2="454.9" stroke="#222" stroke-width="1.2"/>
<text x="187.22" y="466.79999999999995" font-size="10" font-weight="bold" fill="#111" text-anchor="middle" textLength="11" lengthAdjust="spacingAndGlyphs" >60</text>
<line x1="229.96" y1="451.4" x2="229.96" y2="454.9" stroke="#222" stroke-width="1.2"/>
<text x="229.96" y="466.79999999999995" font-size="10" font-weight="bold" fill="#111" text-anchor="middle" textLength="11" lengthAdjust="spacingAndGlyphs" >80</text>
<line x1="272.70" y1="451.4" x2="272.70" y2="454.9" stroke="#222" stroke-width="1.2"/>
<text x="272.7" y="466.79999999999995" font-size="10" font-weight="bold" fill="#111" text-anchor="middle" textLength="16.5" lengthAdjust="spacingAndGlyphs" >100</text>
<line x1="272.7" y1="274.40" x2="276.2" y2="274.40" stroke="#3a5ab0" stroke-width="1.2"/>
<text x="279.6" y="277.4" font-size="10" font-weight="bold" fill="#3a5ab0" text-anchor="start" textLength="14" lengthAdjust="spacingAndGlyphs" >100</text>
<line x1="272.7" y1="309.80" x2="276.2" y2="309.80" stroke="#3a5ab0" stroke-width="1.2"/>
<text x="279.6" y="312.79999999999995" font-size="10" font-weight="bold" fill="#3a5ab0" text-anchor="start" textLength="9.6" lengthAdjust="spacingAndGlyphs" >90</text>
<line x1="272.7" y1="345.20" x2="276.2" y2="345.20" stroke="#3a5ab0" stroke-width="1.2"/>
<text x="279.6" y="348.2" font-size="10" font-weight="bold" fill="#3a5ab0" text-anchor="start" textLength="9.6" lengthAdjust="spacingAndGlyphs" >80</text>
<line x1="272.7" y1="380.60" x2="276.2" y2="380.60" stroke="#3a5ab0" stroke-width="1.2"/>
<text x="279.6" y="383.59999999999997" font-size="10" font-weight="bold" fill="#3a5ab0" text-anchor="start" textLength="9.6" lengthAdjust="spacingAndGlyphs" >70</text>
<line x1="272.7" y1="416.00" x2="276.2" y2="416.00" stroke="#3a5ab0" stroke-width="1.2"/>
<text x="279.6" y="419.0" font-size="10" font-weight="bold" fill="#3a5ab0" text-anchor="start" textLength="9.6" lengthAdjust="spacingAndGlyphs" >60</text>
<line x1="272.7" y1="451.40" x2="276.2" y2="451.40" stroke="#3a5ab0" stroke-width="1.2"/>
<text x="279.6" y="454.4" font-size="10" font-weight="bold" fill="#3a5ab0" text-anchor="start" textLength="9.6" lengthAdjust="spacingAndGlyphs" >50</text>
<path d="M59.00,346.97 L61.14,346.97 L63.27,349.62 L65.41,351.84 L67.55,354.05 L70.11,355.38" stroke="#e8322c" stroke-width="3.6" fill="none" stroke-linejoin="round"/>
<path d="M70.11,355.38 L70.54,366.00" stroke="#e8322c" stroke-width="1.2"/>
<path d="M70.54,366.00 L76.10,367.77 L80.37,368.65 L101.74,371.75 L144.48,375.29 L187.22,379.27 L229.96,383.25 L272.70,387.24" stroke="#e8322c" stroke-width="4.4" fill="none" stroke-linejoin="round"/>
<path d="M59.00,383.70 L61.14,383.70 L65.41,382.37 L70.11,382.81" stroke="#000" stroke-width="4" fill="none" stroke-linejoin="round"/>
<path d="M70.11,382.81 L70.54,387.68" stroke="#000" stroke-width="1.2"/>
<path d="M70.54,387.68 L76.10,388.56 L80.37,389.45 L101.74,392.11 L144.48,395.20 L187.22,397.41 L229.96,399.19 L251.33,399.63 L272.70,399.63" stroke="#000" stroke-width="4.6" fill="none" stroke-linejoin="round"/>
<path d="M61.14,326.08 L63.27,289.98 L65.41,282.90 L67.55,280.06 L69.69,277.94 L71.82,316.88 L73.96,277.94 L76.10,277.23 L80.37,276.52 L82.51,279.58 L84.64,278.49 L86.78,279.11 L88.92,278.28 L91.06,278.20 L93.19,280.19 L95.33,280.37 L97.47,277.45 L99.60,279.50 L101.74,279.59 L103.88,276.89 L106.01,278.75 L108.15,277.46 L110.29,278.73 L112.42,278.16 L114.56,279.88 L116.70,278.17 L118.84,277.35 L120.97,278.57 L123.11,277.79 L125.25,278.04 L127.38,280.19 L129.52,277.73 L131.66,278.33 L133.80,279.35 L135.93,280.31 L138.07,277.35 L140.21,278.74 L142.34,277.87 L144.48,277.31 L146.62,277.89 L148.75,277.16 L150.89,279.02 L153.03,277.58 L155.17,278.84 L157.30,277.11 L159.44,277.31 L161.58,280.07 L163.71,279.94 L165.85,279.65 L167.99,277.00 L170.12,278.87 L172.26,278.20 L174.40,279.35 L176.53,278.62 L178.67,279.05 L180.81,279.18 L182.95,278.35 L185.08,278.35 L187.22,277.22 L189.36,278.00 L191.49,277.13 L193.63,277.39 L195.77,276.91 L197.91,278.04 L200.04,279.84 L202.18,277.37 L204.32,277.00 L206.45,277.22 L208.59,278.40 L210.73,277.89 L212.86,279.67 L215.00,277.47 L217.14,278.39 L219.28,279.41 L221.41,280.19 L223.55,277.40 L225.69,276.91 L227.82,280.10 L229.96,277.58 L232.10,278.96 L234.23,279.88 L236.37,279.38 L238.51,277.70 L240.65,277.33 L242.78,280.26 L244.92,278.24 L247.06,280.26 L249.19,277.87 L251.33,279.25 L253.47,277.30 L255.60,276.95 L257.74,278.63 L259.88,276.88 L262.01,279.32 L264.15,280.15 L266.29,278.29 L268.43,280.31 L270.56,279.72 L272.70,278.97" stroke="#e8322c" stroke-width="0.9" fill="none"/>
<path d="M61.14,420.25 L63.27,299.89 L65.41,289.62 L67.55,285.02 L69.69,281.83 L71.82,308.74 L73.96,281.13 L76.10,280.42 L80.37,279.36 L84.64,278.65 L91.06,277.94 L93.19,276.00 L95.33,277.05 L97.47,277.31 L99.60,275.41 L101.74,276.69 L103.88,275.20 L106.01,275.35 L108.15,276.54 L110.29,276.35 L112.42,276.21 L114.56,275.93 L116.70,276.04 L118.84,276.12 L120.97,275.98 L123.11,275.24 L125.25,276.24 L127.38,276.42 L129.52,275.75 L131.66,276.86 L133.80,276.72 L135.93,275.16 L138.07,276.21 L140.21,276.15 L142.34,277.38 L144.48,276.45 L146.62,276.07 L148.75,277.36 L150.89,275.99 L153.03,275.95 L155.17,277.27 L157.30,275.97 L159.44,276.34 L161.58,275.85 L163.71,276.60 L165.85,275.78 L167.99,275.71 L170.12,277.36 L172.26,277.27 L174.40,275.85 L176.53,275.19 L178.67,276.83 L180.81,276.36 L182.95,276.05 L185.08,276.67 L187.22,276.57 L189.36,276.69 L191.49,276.56 L193.63,276.04 L195.77,276.72 L197.91,276.54 L200.04,275.63 L202.18,277.35 L204.32,276.10 L206.45,275.72 L208.59,276.70 L210.73,276.90 L212.86,275.56 L215.00,276.86 L217.14,276.98 L219.28,276.41 L221.41,275.80 L223.55,277.17 L225.69,276.67 L227.82,276.64 L229.96,275.49 L232.10,276.40 L234.23,275.44 L236.37,277.02 L238.51,276.63 L240.65,275.91 L242.78,275.37 L244.92,276.37 L247.06,276.89 L249.19,277.13 L251.33,276.19 L253.47,276.97 L255.60,275.55 L257.74,275.48 L259.88,276.99 L262.01,276.77 L264.15,275.55 L266.29,275.93 L268.43,275.55 L270.56,276.61 L272.70,277.11" stroke="#000" stroke-width="0.9" fill="none"/>
<rect x="59.74" y="324.68" width="2.8" height="2.8" fill="#fff" stroke="#e8322c" stroke-width="0.9"/>
<rect x="61.87" y="288.58" width="2.8" height="2.8" fill="#fff" stroke="#e8322c" stroke-width="0.9"/>
<rect x="64.01" y="281.50" width="2.8" height="2.8" fill="#fff" stroke="#e8322c" stroke-width="0.9"/>
<rect x="66.15" y="278.66" width="2.8" height="2.8" fill="#fff" stroke="#e8322c" stroke-width="0.9"/>
<rect x="68.28" y="276.54" width="2.8" height="2.8" fill="#fff" stroke="#e8322c" stroke-width="0.9"/>
<rect x="70.42" y="315.48" width="2.8" height="2.8" fill="#fff" stroke="#e8322c" stroke-width="0.9"/>
<rect x="72.56" y="276.54" width="2.8" height="2.8" fill="#fff" stroke="#e8322c" stroke-width="0.9"/>
<rect x="74.70" y="275.83" width="2.8" height="2.8" fill="#fff" stroke="#e8322c" stroke-width="0.9"/>
<rect x="78.97" y="275.12" width="2.8" height="2.8" fill="#fff" stroke="#e8322c" stroke-width="0.9"/>
<rect x="81.11" y="278.18" width="2.8" height="2.8" fill="#fff" stroke="#e8322c" stroke-width="0.9"/>
<rect x="83.24" y="277.09" width="2.8" height="2.8" fill="#fff" stroke="#e8322c" stroke-width="0.9"/>
<rect x="85.38" y="277.71" width="2.8" height="2.8" fill="#fff" stroke="#e8322c" stroke-width="0.9"/>
<rect x="87.52" y="276.88" width="2.8" height="2.8" fill="#fff" stroke="#e8322c" stroke-width="0.9"/>
<rect x="89.66" y="276.80" width="2.8" height="2.8" fill="#fff" stroke="#e8322c" stroke-width="0.9"/>
<rect x="91.79" y="278.79" width="2.8" height="2.8" fill="#fff" stroke="#e8322c" stroke-width="0.9"/>
<rect x="93.93" y="278.97" width="2.8" height="2.8" fill="#fff" stroke="#e8322c" stroke-width="0.9"/>
<rect x="96.07" y="276.05" width="2.8" height="2.8" fill="#fff" stroke="#e8322c" stroke-width="0.9"/>
<rect x="98.20" y="278.10" width="2.8" height="2.8" fill="#fff" stroke="#e8322c" stroke-width="0.9"/>
<rect x="100.34" y="278.19" width="2.8" height="2.8" fill="#fff" stroke="#e8322c" stroke-width="0.9"/>
<rect x="102.48" y="275.49" width="2.8" height="2.8" fill="#fff" stroke="#e8322c" stroke-width="0.9"/>
<rect x="104.61" y="277.35" width="2.8" height="2.8" fill="#fff" stroke="#e8322c" stroke-width="0.9"/>
<rect x="106.75" y="276.06" width="2.8" height="2.8" fill="#fff" stroke="#e8322c" stroke-width="0.9"/>
<rect x="108.89" y="277.33" width="2.8" height="2.8" fill="#fff" stroke="#e8322c" stroke-width="0.9"/>
<rect x="111.02" y="276.76" width="2.8" height="2.8" fill="#fff" stroke="#e8322c" stroke-width="0.9"/>
<rect x="113.16" y="278.48" width="2.8" height="2.8" fill="#fff" stroke="#e8322c" stroke-width="0.9"/>
<rect x="115.30" y="276.77" width="2.8" height="2.8" fill="#fff" stroke="#e8322c" stroke-width="0.9"/>
<rect x="117.44" y="275.95" width="2.8" height="2.8" fill="#fff" stroke="#e8322c" stroke-width="0.9"/>
<rect x="119.57" y="277.17" width="2.8" height="2.8" fill="#fff" stroke="#e8322c" stroke-width="0.9"/>
<rect x="121.71" y="276.39" width="2.8" height="2.8" fill="#fff" stroke="#e8322c" stroke-width="0.9"/>
<rect x="123.85" y="276.64" width="2.8" height="2.8" fill="#fff" stroke="#e8322c" stroke-width="0.9"/>
<rect x="125.98" y="278.79" width="2.8" height="2.8" fill="#fff" stroke="#e8322c" stroke-width="0.9"/>
<rect x="128.12" y="276.33" width="2.8" height="2.8" fill="#fff" stroke="#e8322c" stroke-width="0.9"/>
<rect x="130.26" y="276.93" width="2.8" height="2.8" fill="#fff" stroke="#e8322c" stroke-width="0.9"/>
<rect x="132.40" y="277.95" width="2.8" height="2.8" fill="#fff" stroke="#e8322c" stroke-width="0.9"/>
<rect x="134.53" y="278.91" width="2.8" height="2.8" fill="#fff" stroke="#e8322c" stroke-width="0.9"/>
<rect x="136.67" y="275.95" width="2.8" height="2.8" fill="#fff" stroke="#e8322c" stroke-width="0.9"/>
<rect x="138.81" y="277.34" width="2.8" height="2.8" fill="#fff" stroke="#e8322c" stroke-width="0.9"/>
<rect x="140.94" y="276.47" width="2.8" height="2.8" fill="#fff" stroke="#e8322c" stroke-width="0.9"/>
<rect x="143.08" y="275.91" width="2.8" height="2.8" fill="#fff" stroke="#e8322c" stroke-width="0.9"/>
<rect x="145.22" y="276.49" width="2.8" height="2.8" fill="#fff" stroke="#e8322c" stroke-width="0.9"/>
<rect x="147.35" y="275.76" width="2.8" height="2.8" fill="#fff" stroke="#e8322c" stroke-width="0.9"/>
<rect x="149.49" y="277.62" width="2.8" height="2.8" fill="#fff" stroke="#e8322c" stroke-width="0.9"/>
<rect x="151.63" y="276.18" width="2.8" height="2.8" fill="#fff" stroke="#e8322c" stroke-width="0.9"/>
<rect x="153.77" y="277.44" width="2.8" height="2.8" fill="#fff" stroke="#e8322c" stroke-width="0.9"/>
<rect x="155.90" y="275.71" width="2.8" height="2.8" fill="#fff" stroke="#e8322c" stroke-width="0.9"/>
<rect x="158.04" y="275.91" width="2.8" height="2.8" fill="#fff" stroke="#e8322c" stroke-width="0.9"/>
<rect x="160.18" y="278.67" width="2.8" height="2.8" fill="#fff" stroke="#e8322c" stroke-width="0.9"/>
<rect x="162.31" y="278.54" width="2.8" height="2.8" fill="#fff" stroke="#e8322c" stroke-width="0.9"/>
<rect x="164.45" y="278.25" width="2.8" height="2.8" fill="#fff" stroke="#e8322c" stroke-width="0.9"/>
<rect x="166.59" y="275.60" width="2.8" height="2.8" fill="#fff" stroke="#e8322c" stroke-width="0.9"/>
<rect x="168.72" y="277.47" width="2.8" height="2.8" fill="#fff" stroke="#e8322c" stroke-width="0.9"/>
<rect x="170.86" y="276.80" width="2.8" height="2.8" fill="#fff" stroke="#e8322c" stroke-width="0.9"/>
<rect x="173.00" y="277.95" width="2.8" height="2.8" fill="#fff" stroke="#e8322c" stroke-width="0.9"/>
<rect x="175.13" y="277.22" width="2.8" height="2.8" fill="#fff" stroke="#e8322c" stroke-width="0.9"/>
<rect x="177.27" y="277.65" width="2.8" height="2.8" fill="#fff" stroke="#e8322c" stroke-width="0.9"/>
<rect x="179.41" y="277.78" width="2.8" height="2.8" fill="#fff" stroke="#e8322c" stroke-width="0.9"/>
<rect x="181.55" y="276.95" width="2.8" height="2.8" fill="#fff" stroke="#e8322c" stroke-width="0.9"/>
<rect x="183.68" y="276.95" width="2.8" height="2.8" fill="#fff" stroke="#e8322c" stroke-width="0.9"/>
<rect x="185.82" y="275.82" width="2.8" height="2.8" fill="#fff" stroke="#e8322c" stroke-width="0.9"/>
<rect x="187.96" y="276.60" width="2.8" height="2.8" fill="#fff" stroke="#e8322c" stroke-width="0.9"/>
<rect x="190.09" y="275.73" width="2.8" height="2.8" fill="#fff" stroke="#e8322c" stroke-width="0.9"/>
<rect x="192.23" y="275.99" width="2.8" height="2.8" fill="#fff" stroke="#e8322c" stroke-width="0.9"/>
<rect x="194.37" y="275.51" width="2.8" height="2.8" fill="#fff" stroke="#e8322c" stroke-width="0.9"/>
<rect x="196.50" y="276.64" width="2.8" height="2.8" fill="#fff" stroke="#e8322c" stroke-width="0.9"/>
<rect x="198.64" y="278.44" width="2.8" height="2.8" fill="#fff" stroke="#e8322c" stroke-width="0.9"/>
<rect x="200.78" y="275.97" width="2.8" height="2.8" fill="#fff" stroke="#e8322c" stroke-width="0.9"/>
<rect x="202.92" y="275.60" width="2.8" height="2.8" fill="#fff" stroke="#e8322c" stroke-width="0.9"/>
<rect x="205.05" y="275.82" width="2.8" height="2.8" fill="#fff" stroke="#e8322c" stroke-width="0.9"/>
<rect x="207.19" y="277.00" width="2.8" height="2.8" fill="#fff" stroke="#e8322c" stroke-width="0.9"/>
<rect x="209.33" y="276.49" width="2.8" height="2.8" fill="#fff" stroke="#e8322c" stroke-width="0.9"/>
<rect x="211.46" y="278.27" width="2.8" height="2.8" fill="#fff" stroke="#e8322c" stroke-width="0.9"/>
<rect x="213.60" y="276.07" width="2.8" height="2.8" fill="#fff" stroke="#e8322c" stroke-width="0.9"/>
<rect x="215.74" y="276.99" width="2.8" height="2.8" fill="#fff" stroke="#e8322c" stroke-width="0.9"/>
<rect x="217.88" y="278.01" width="2.8" height="2.8" fill="#fff" stroke="#e8322c" stroke-width="0.9"/>
<rect x="220.01" y="278.79" width="2.8" height="2.8" fill="#fff" stroke="#e8322c" stroke-width="0.9"/>
<rect x="222.15" y="276.00" width="2.8" height="2.8" fill="#fff" stroke="#e8322c" stroke-width="0.9"/>
<rect x="224.29" y="275.51" width="2.8" height="2.8" fill="#fff" stroke="#e8322c" stroke-width="0.9"/>
<rect x="226.42" y="278.70" width="2.8" height="2.8" fill="#fff" stroke="#e8322c" stroke-width="0.9"/>
<rect x="228.56" y="276.18" width="2.8" height="2.8" fill="#fff" stroke="#e8322c" stroke-width="0.9"/>
<rect x="230.70" y="277.56" width="2.8" height="2.8" fill="#fff" stroke="#e8322c" stroke-width="0.9"/>
<rect x="232.83" y="278.48" width="2.8" height="2.8" fill="#fff" stroke="#e8322c" stroke-width="0.9"/>
<rect x="234.97" y="277.98" width="2.8" height="2.8" fill="#fff" stroke="#e8322c" stroke-width="0.9"/>
<rect x="237.11" y="276.30" width="2.8" height="2.8" fill="#fff" stroke="#e8322c" stroke-width="0.9"/>
<rect x="239.25" y="275.93" width="2.8" height="2.8" fill="#fff" stroke="#e8322c" stroke-width="0.9"/>
<rect x="241.38" y="278.86" width="2.8" height="2.8" fill="#fff" stroke="#e8322c" stroke-width="0.9"/>
<rect x="243.52" y="276.84" width="2.8" height="2.8" fill="#fff" stroke="#e8322c" stroke-width="0.9"/>
<rect x="245.66" y="278.86" width="2.8" height="2.8" fill="#fff" stroke="#e8322c" stroke-width="0.9"/>
<rect x="247.79" y="276.47" width="2.8" height="2.8" fill="#fff" stroke="#e8322c" stroke-width="0.9"/>
<rect x="249.93" y="277.85" width="2.8" height="2.8" fill="#fff" stroke="#e8322c" stroke-width="0.9"/>
<rect x="252.07" y="275.90" width="2.8" height="2.8" fill="#fff" stroke="#e8322c" stroke-width="0.9"/>
<rect x="254.20" y="275.55" width="2.8" height="2.8" fill="#fff" stroke="#e8322c" stroke-width="0.9"/>
<rect x="256.34" y="277.23" width="2.8" height="2.8" fill="#fff" stroke="#e8322c" stroke-width="0.9"/>
<rect x="258.48" y="275.48" width="2.8" height="2.8" fill="#fff" stroke="#e8322c" stroke-width="0.9"/>
<rect x="260.62" y="277.92" width="2.8" height="2.8" fill="#fff" stroke="#e8322c" stroke-width="0.9"/>
<rect x="262.75" y="278.75" width="2.8" height="2.8" fill="#fff" stroke="#e8322c" stroke-width="0.9"/>
<rect x="264.89" y="276.89" width="2.8" height="2.8" fill="#fff" stroke="#e8322c" stroke-width="0.9"/>
<rect x="267.03" y="278.91" width="2.8" height="2.8" fill="#fff" stroke="#e8322c" stroke-width="0.9"/>
<rect x="269.16" y="278.32" width="2.8" height="2.8" fill="#fff" stroke="#e8322c" stroke-width="0.9"/>
<rect x="271.30" y="277.57" width="2.8" height="2.8" fill="#fff" stroke="#e8322c" stroke-width="0.9"/>
<rect x="59.74" y="418.85" width="2.8" height="2.8" fill="#fff" stroke="#000" stroke-width="0.9"/>
<rect x="61.87" y="298.49" width="2.8" height="2.8" fill="#fff" stroke="#000" stroke-width="0.9"/>
<rect x="64.01" y="288.22" width="2.8" height="2.8" fill="#fff" stroke="#000" stroke-width="0.9"/>
<rect x="66.15" y="283.62" width="2.8" height="2.8" fill="#fff" stroke="#000" stroke-width="0.9"/>
<rect x="68.28" y="280.43" width="2.8" height="2.8" fill="#fff" stroke="#000" stroke-width="0.9"/>
<rect x="70.42" y="307.34" width="2.8" height="2.8" fill="#fff" stroke="#000" stroke-width="0.9"/>
<rect x="72.56" y="279.73" width="2.8" height="2.8" fill="#fff" stroke="#000" stroke-width="0.9"/>
<rect x="74.70" y="279.02" width="2.8" height="2.8" fill="#fff" stroke="#000" stroke-width="0.9"/>
<rect x="78.97" y="277.96" width="2.8" height="2.8" fill="#fff" stroke="#000" stroke-width="0.9"/>
<rect x="83.24" y="277.25" width="2.8" height="2.8" fill="#fff" stroke="#000" stroke-width="0.9"/>
<rect x="89.66" y="276.54" width="2.8" height="2.8" fill="#fff" stroke="#000" stroke-width="0.9"/>
<rect x="91.79" y="274.60" width="2.8" height="2.8" fill="#fff" stroke="#000" stroke-width="0.9"/>
<rect x="93.93" y="275.65" width="2.8" height="2.8" fill="#fff" stroke="#000" stroke-width="0.9"/>
<rect x="96.07" y="275.91" width="2.8" height="2.8" fill="#fff" stroke="#000" stroke-width="0.9"/>
<rect x="98.20" y="274.01" width="2.8" height="2.8" fill="#fff" stroke="#000" stroke-width="0.9"/>
<rect x="100.34" y="275.29" width="2.8" height="2.8" fill="#fff" stroke="#000" stroke-width="0.9"/>
<rect x="102.48" y="273.80" width="2.8" height="2.8" fill="#fff" stroke="#000" stroke-width="0.9"/>
<rect x="104.61" y="273.95" width="2.8" height="2.8" fill="#fff" stroke="#000" stroke-width="0.9"/>
<rect x="106.75" y="275.14" width="2.8" height="2.8" fill="#fff" stroke="#000" stroke-width="0.9"/>
<rect x="108.89" y="274.95" width="2.8" height="2.8" fill="#fff" stroke="#000" stroke-width="0.9"/>
<rect x="111.02" y="274.81" width="2.8" height="2.8" fill="#fff" stroke="#000" stroke-width="0.9"/>
<rect x="113.16" y="274.53" width="2.8" height="2.8" fill="#fff" stroke="#000" stroke-width="0.9"/>
<rect x="115.30" y="274.64" width="2.8" height="2.8" fill="#fff" stroke="#000" stroke-width="0.9"/>
<rect x="117.44" y="274.72" width="2.8" height="2.8" fill="#fff" stroke="#000" stroke-width="0.9"/>
<rect x="119.57" y="274.58" width="2.8" height="2.8" fill="#fff" stroke="#000" stroke-width="0.9"/>
<rect x="121.71" y="273.84" width="2.8" height="2.8" fill="#fff" stroke="#000" stroke-width="0.9"/>
<rect x="123.85" y="274.84" width="2.8" height="2.8" fill="#fff" stroke="#000" stroke-width="0.9"/>
<rect x="125.98" y="275.02" width="2.8" height="2.8" fill="#fff" stroke="#000" stroke-width="0.9"/>
<rect x="128.12" y="274.35" width="2.8" height="2.8" fill="#fff" stroke="#000" stroke-width="0.9"/>
<rect x="130.26" y="275.46" width="2.8" height="2.8" fill="#fff" stroke="#000" stroke-width="0.9"/>
<rect x="132.40" y="275.32" width="2.8" height="2.8" fill="#fff" stroke="#000" stroke-width="0.9"/>
<rect x="134.53" y="273.76" width="2.8" height="2.8" fill="#fff" stroke="#000" stroke-width="0.9"/>
<rect x="136.67" y="274.81" width="2.8" height="2.8" fill="#fff" stroke="#000" stroke-width="0.9"/>
<rect x="138.81" y="274.75" width="2.8" height="2.8" fill="#fff" stroke="#000" stroke-width="0.9"/>
<rect x="140.94" y="275.98" width="2.8" height="2.8" fill="#fff" stroke="#000" stroke-width="0.9"/>
<rect x="143.08" y="275.05" width="2.8" height="2.8" fill="#fff" stroke="#000" stroke-width="0.9"/>
<rect x="145.22" y="274.67" width="2.8" height="2.8" fill="#fff" stroke="#000" stroke-width="0.9"/>
<rect x="147.35" y="275.96" width="2.8" height="2.8" fill="#fff" stroke="#000" stroke-width="0.9"/>
<rect x="149.49" y="274.59" width="2.8" height="2.8" fill="#fff" stroke="#000" stroke-width="0.9"/>
<rect x="151.63" y="274.55" width="2.8" height="2.8" fill="#fff" stroke="#000" stroke-width="0.9"/>
<rect x="153.77" y="275.87" width="2.8" height="2.8" fill="#fff" stroke="#000" stroke-width="0.9"/>
<rect x="155.90" y="274.57" width="2.8" height="2.8" fill="#fff" stroke="#000" stroke-width="0.9"/>
<rect x="158.04" y="274.94" width="2.8" height="2.8" fill="#fff" stroke="#000" stroke-width="0.9"/>
<rect x="160.18" y="274.45" width="2.8" height="2.8" fill="#fff" stroke="#000" stroke-width="0.9"/>
<rect x="162.31" y="275.20" width="2.8" height="2.8" fill="#fff" stroke="#000" stroke-width="0.9"/>
<rect x="164.45" y="274.38" width="2.8" height="2.8" fill="#fff" stroke="#000" stroke-width="0.9"/>
<rect x="166.59" y="274.31" width="2.8" height="2.8" fill="#fff" stroke="#000" stroke-width="0.9"/>
<rect x="168.72" y="275.96" width="2.8" height="2.8" fill="#fff" stroke="#000" stroke-width="0.9"/>
<rect x="170.86" y="275.87" width="2.8" height="2.8" fill="#fff" stroke="#000" stroke-width="0.9"/>
<rect x="173.00" y="274.45" width="2.8" height="2.8" fill="#fff" stroke="#000" stroke-width="0.9"/>
<rect x="175.13" y="273.79" width="2.8" height="2.8" fill="#fff" stroke="#000" stroke-width="0.9"/>
<rect x="177.27" y="275.43" width="2.8" height="2.8" fill="#fff" stroke="#000" stroke-width="0.9"/>
<rect x="179.41" y="274.96" width="2.8" height="2.8" fill="#fff" stroke="#000" stroke-width="0.9"/>
<rect x="181.55" y="274.65" width="2.8" height="2.8" fill="#fff" stroke="#000" stroke-width="0.9"/>
<rect x="183.68" y="275.27" width="2.8" height="2.8" fill="#fff" stroke="#000" stroke-width="0.9"/>
<rect x="185.82" y="275.17" width="2.8" height="2.8" fill="#fff" stroke="#000" stroke-width="0.9"/>
<rect x="187.96" y="275.29" width="2.8" height="2.8" fill="#fff" stroke="#000" stroke-width="0.9"/>
<rect x="190.09" y="275.16" width="2.8" height="2.8" fill="#fff" stroke="#000" stroke-width="0.9"/>
<rect x="192.23" y="274.64" width="2.8" height="2.8" fill="#fff" stroke="#000" stroke-width="0.9"/>
<rect x="194.37" y="275.32" width="2.8" height="2.8" fill="#fff" stroke="#000" stroke-width="0.9"/>
<rect x="196.50" y="275.14" width="2.8" height="2.8" fill="#fff" stroke="#000" stroke-width="0.9"/>
<rect x="198.64" y="274.23" width="2.8" height="2.8" fill="#fff" stroke="#000" stroke-width="0.9"/>
<rect x="200.78" y="275.95" width="2.8" height="2.8" fill="#fff" stroke="#000" stroke-width="0.9"/>
<rect x="202.92" y="274.70" width="2.8" height="2.8" fill="#fff" stroke="#000" stroke-width="0.9"/>
<rect x="205.05" y="274.32" width="2.8" height="2.8" fill="#fff" stroke="#000" stroke-width="0.9"/>
<rect x="207.19" y="275.30" width="2.8" height="2.8" fill="#fff" stroke="#000" stroke-width="0.9"/>
<rect x="209.33" y="275.50" width="2.8" height="2.8" fill="#fff" stroke="#000" stroke-width="0.9"/>
<rect x="211.46" y="274.16" width="2.8" height="2.8" fill="#fff" stroke="#000" stroke-width="0.9"/>
<rect x="213.60" y="275.46" width="2.8" height="2.8" fill="#fff" stroke="#000" stroke-width="0.9"/>
<rect x="215.74" y="275.58" width="2.8" height="2.8" fill="#fff" stroke="#000" stroke-width="0.9"/>
<rect x="217.88" y="275.01" width="2.8" height="2.8" fill="#fff" stroke="#000" stroke-width="0.9"/>
<rect x="220.01" y="274.40" width="2.8" height="2.8" fill="#fff" stroke="#000" stroke-width="0.9"/>
<rect x="222.15" y="275.77" width="2.8" height="2.8" fill="#fff" stroke="#000" stroke-width="0.9"/>
<rect x="224.29" y="275.27" width="2.8" height="2.8" fill="#fff" stroke="#000" stroke-width="0.9"/>
<rect x="226.42" y="275.24" width="2.8" height="2.8" fill="#fff" stroke="#000" stroke-width="0.9"/>
<rect x="228.56" y="274.09" width="2.8" height="2.8" fill="#fff" stroke="#000" stroke-width="0.9"/>
<rect x="230.70" y="275.00" width="2.8" height="2.8" fill="#fff" stroke="#000" stroke-width="0.9"/>
<rect x="232.83" y="274.04" width="2.8" height="2.8" fill="#fff" stroke="#000" stroke-width="0.9"/>
<rect x="234.97" y="275.62" width="2.8" height="2.8" fill="#fff" stroke="#000" stroke-width="0.9"/>
<rect x="237.11" y="275.23" width="2.8" height="2.8" fill="#fff" stroke="#000" stroke-width="0.9"/>
<rect x="239.25" y="274.51" width="2.8" height="2.8" fill="#fff" stroke="#000" stroke-width="0.9"/>
<rect x="241.38" y="273.97" width="2.8" height="2.8" fill="#fff" stroke="#000" stroke-width="0.9"/>
<rect x="243.52" y="274.97" width="2.8" height="2.8" fill="#fff" stroke="#000" stroke-width="0.9"/>
<rect x="245.66" y="275.49" width="2.8" height="2.8" fill="#fff" stroke="#000" stroke-width="0.9"/>
<rect x="247.79" y="275.73" width="2.8" height="2.8" fill="#fff" stroke="#000" stroke-width="0.9"/>
<rect x="249.93" y="274.79" width="2.8" height="2.8" fill="#fff" stroke="#000" stroke-width="0.9"/>
<rect x="252.07" y="275.57" width="2.8" height="2.8" fill="#fff" stroke="#000" stroke-width="0.9"/>
<rect x="254.20" y="274.15" width="2.8" height="2.8" fill="#fff" stroke="#000" stroke-width="0.9"/>
<rect x="256.34" y="274.08" width="2.8" height="2.8" fill="#fff" stroke="#000" stroke-width="0.9"/>
<rect x="258.48" y="275.59" width="2.8" height="2.8" fill="#fff" stroke="#000" stroke-width="0.9"/>
<rect x="260.62" y="275.37" width="2.8" height="2.8" fill="#fff" stroke="#000" stroke-width="0.9"/>
<rect x="262.75" y="274.15" width="2.8" height="2.8" fill="#fff" stroke="#000" stroke-width="0.9"/>
<rect x="264.89" y="274.53" width="2.8" height="2.8" fill="#fff" stroke="#000" stroke-width="0.9"/>
<rect x="267.03" y="274.15" width="2.8" height="2.8" fill="#fff" stroke="#000" stroke-width="0.9"/>
<rect x="269.16" y="275.21" width="2.8" height="2.8" fill="#fff" stroke="#000" stroke-width="0.9"/>
<rect x="271.30" y="275.71" width="2.8" height="2.8" fill="#fff" stroke="#000" stroke-width="0.9"/>
<text x="64.2" y="348.3" font-size="10.8" font-weight="bold" fill="#111" text-anchor="start" textLength="87" lengthAdjust="spacingAndGlyphs" >C/20 (5 precycles)</text>
<text x="155.5" y="373.5" font-size="10.5" font-weight="bold" fill="#111" text-anchor="start" textLength="11.5" lengthAdjust="spacingAndGlyphs" >1C</text>
<line x1="187.8" y1="423.5" x2="200.1" y2="423.5" stroke="#000" stroke-width="1"/>
<rect x="192.4" y="422" width="3" height="3" fill="#000"/>
<line x1="187.8" y1="437.8" x2="200.1" y2="437.8" stroke="#e8322c" stroke-width="1"/>
<rect x="192.4" y="436.3" width="3" height="3" fill="#e8322c"/>
<text x="202.8" y="426" font-size="12" font-weight="bold" fill="#111" text-anchor="start" textLength="37.6" lengthAdjust="spacingAndGlyphs" >Pristine</text>
<text x="202.8" y="439.4" font-size="12" font-weight="bold" fill="#111" text-anchor="start" textLength="55.7" lengthAdjust="spacingAndGlyphs" >Prelithiated</text>
<text x="165.5" y="484.3" font-size="12.3" font-weight="bold" fill="#111" text-anchor="middle" textLength="67" lengthAdjust="spacingAndGlyphs" >Cycle number</text>
<text font-size="12.4" font-weight="bold" fill="#111" text-anchor="middle" textLength="146.5" lengthAdjust="spacingAndGlyphs" transform="translate(38.1,360.6) rotate(-90)">Areal Capacity (mAh cm<tspan font-size="7.5" dy="-5.6">-2</tspan><tspan dy="5.6">)</tspan></text>
<text font-size="12.2" font-weight="bold" fill="#3a5ab0" text-anchor="middle" textLength="139" lengthAdjust="spacingAndGlyphs" transform="translate(293.2,370.6) rotate(90)">Coulombic Efficiency(%)</text>
<defs>
<linearGradient id="gBar" x1="0" y1="0" x2="1" y2="0"><stop offset="0" stop-color="#9a6a1e"/><stop offset="0.5" stop-color="#e0a840"/><stop offset="1" stop-color="#a8741f"/></linearGradient>
<linearGradient id="gRod" x1="0" y1="0" x2="1" y2="0"><stop offset="0" stop-color="#8a8a8a"/><stop offset="0.45" stop-color="#d5d5d5"/><stop offset="1" stop-color="#7a7a7a"/></linearGradient>
<linearGradient id="gRef" x1="0" y1="0" x2="1" y2="0"><stop offset="0" stop-color="#b8b8b8"/><stop offset="0.4" stop-color="#f6f6f6"/><stop offset="1" stop-color="#a8a8a8"/></linearGradient>
<pattern id="pCyan" width="6" height="6" patternUnits="userSpaceOnUse"><rect width="6" height="6" fill="#b0dde8"/><circle cx="1.5" cy="1.5" r="1" fill="#c8ebf2"/><circle cx="4.5" cy="4.2" r="0.8" fill="#8ccada"/></pattern>
<pattern id="pWhite" width="7" height="9" patternUnits="userSpaceOnUse"><rect width="7" height="9" fill="#f1f1f1"/><path d="M0,2 C2,0 4,4 7,2 M1,6 C3,8 5,4 7,7" stroke="#b9b9b9" stroke-width="0.6" fill="none"/></pattern>
</defs>
<rect x="363.9" y="285.3" width="239.9" height="173.6" fill="#dde4ef"/>
<rect x="365.6" y="285.3" width="41" height="173.6" fill="#dceaf3"/>
<rect x="406.6" y="285.3" width="20.1" height="173.6" fill="url(#pCyan)"/>
<rect x="426.7" y="285.3" width="11.1" height="173.6" fill="url(#pWhite)"/><line x1="437.6" y1="285.3" x2="437.6" y2="459" stroke="#9a9a9a" stroke-width="0.8"/>
<rect x="362.6" y="284" width="3" height="175" fill="url(#gBar)"/>
<path d="M365.1,294.6 Q374.1,282.1 384.1,298.5" stroke="#333" stroke-width="0.5" fill="none"/>
<path d="M364.1,295.8 Q374.2,307.1 383.1,292.8" stroke="#333" stroke-width="0.5" fill="none"/>
<path d="M381.3,293.5 Q390.3,281.4 400.3,295.4" stroke="#333" stroke-width="0.5" fill="none"/>
<path d="M380.3,297.7 Q387.1,306.4 399.3,289.8" stroke="#333" stroke-width="0.5" fill="none"/>
<path d="M364.4,310.0 Q373.4,295.5 383.4,310.0" stroke="#333" stroke-width="0.5" fill="none"/>
<path d="M363.4,305.8 Q377.3,320.5 382.4,309.2" stroke="#333" stroke-width="0.5" fill="none"/>
<path d="M381.3,307.7 Q390.3,294.8 400.3,305.1" stroke="#333" stroke-width="0.5" fill="none"/>
<path d="M380.3,304.9 Q390.5,319.8 399.3,301.3" stroke="#333" stroke-width="0.5" fill="none"/>
<path d="M367.2,316.0 Q376.2,306.1 386.2,315.3" stroke="#333" stroke-width="0.5" fill="none"/>
<path d="M366.2,319.8 Q375.7,331.1 385.2,318.8" stroke="#333" stroke-width="0.5" fill="none"/>
<path d="M379.2,329.1 Q388.2,316.0 398.2,329.0" stroke="#333" stroke-width="0.5" fill="none"/>
<path d="M378.2,331.3 Q387.9,341.0 397.2,324.2" stroke="#333" stroke-width="0.5" fill="none"/>
<path d="M365.8,346.1 Q374.8,330.1 384.8,345.8" stroke="#333" stroke-width="0.5" fill="none"/>
<path d="M364.8,345.8 Q373.3,355.1 383.8,337.9" stroke="#333" stroke-width="0.5" fill="none"/>
<path d="M383.4,345.8 Q392.4,337.2 402.4,352.3" stroke="#333" stroke-width="0.5" fill="none"/>
<path d="M382.4,350.4 Q395.2,362.2 401.4,346.3" stroke="#333" stroke-width="0.5" fill="none"/>
<path d="M369.3,354.8 Q378.3,340.0 388.3,349.0" stroke="#333" stroke-width="0.5" fill="none"/>
<path d="M368.3,351.7 Q381.6,365.0 387.3,349.8" stroke="#333" stroke-width="0.5" fill="none"/>
<path d="M361.0,367.0 Q370.0,355.8 380.0,365.4" stroke="#333" stroke-width="0.5" fill="none"/>
<path d="M360.0,370.8 Q372.2,380.8 379.0,364.0" stroke="#333" stroke-width="0.5" fill="none"/>
<path d="M388.1,365.1 Q397.1,354.4 407.1,371.1" stroke="#333" stroke-width="0.5" fill="none"/>
<path d="M387.1,370.5 Q394.0,379.4 406.1,362.4" stroke="#333" stroke-width="0.5" fill="none"/>
<path d="M373.8,372.9 Q382.8,364.4 392.8,379.8" stroke="#333" stroke-width="0.5" fill="none"/>
<path d="M372.8,375.8 Q383.3,389.4 391.8,374.0" stroke="#333" stroke-width="0.5" fill="none"/>
<path d="M365.3,389.7 Q374.3,375.8 384.3,385.8" stroke="#333" stroke-width="0.5" fill="none"/>
<path d="M364.3,390.9 Q371.2,400.8 383.3,385.2" stroke="#333" stroke-width="0.5" fill="none"/>
<path d="M383.8,388.9 Q392.8,378.7 402.8,395.5" stroke="#333" stroke-width="0.5" fill="none"/>
<path d="M382.8,395.1 Q391.2,403.7 401.8,391.8" stroke="#333" stroke-width="0.5" fill="none"/>
<path d="M368.8,399.9 Q377.8,388.7 387.8,404.5" stroke="#333" stroke-width="0.5" fill="none"/>
<path d="M367.8,403.8 Q374.6,413.7 386.8,402.6" stroke="#333" stroke-width="0.5" fill="none"/>
<path d="M366.0,413.0 Q375.0,402.9 385.0,418.1" stroke="#333" stroke-width="0.5" fill="none"/>
<path d="M365.0,415.5 Q373.4,427.9 384.0,409.5" stroke="#333" stroke-width="0.5" fill="none"/>
<path d="M381.0,412.8 Q390.0,400.1 400.0,411.0" stroke="#333" stroke-width="0.5" fill="none"/>
<path d="M380.0,414.9 Q389.0,425.1 399.0,409.7" stroke="#333" stroke-width="0.5" fill="none"/>
<path d="M386.7,426.2 Q395.7,414.3 405.7,427.9" stroke="#333" stroke-width="0.5" fill="none"/>
<path d="M385.7,431.2 Q393.2,439.3 404.7,421.5" stroke="#333" stroke-width="0.5" fill="none"/>
<path d="M366.0,435.3 Q375.0,420.8 385.0,431.8" stroke="#333" stroke-width="0.5" fill="none"/>
<path d="M365.0,432.3 Q376.9,445.8 384.0,434.3" stroke="#333" stroke-width="0.5" fill="none"/>
<path d="M367.4,452.0 Q376.4,436.4 386.4,452.5" stroke="#333" stroke-width="0.5" fill="none"/>
<path d="M366.4,451.2 Q375.8,461.4 385.4,443.2" stroke="#333" stroke-width="0.5" fill="none"/>
<circle cx="374.1" cy="294.1" r="7.7" fill="#f1bb3d" stroke="#3d64ab" stroke-width="1.5"/>
<path d="M379.3,295.4 L379.5,297.9 M373.9,299.1 L372.3,298.0 M376.2,298.3 L377.9,299.0 M369.4,292.3 L367.9,291.0 M376.3,292.9 L378.1,293.1 M372.8,294.6 L373.7,296.4 M372.3,293.2 L370.5,295.4 M378.5,293.5 L377.7,291.3 M374.8,294.9 L377.6,295.2 M372.5,289.0 L374.9,289.3 M369.4,294.6 L368.2,297.4 M377.7,296.0 L377.5,293.1 M373.7,289.5 L374.5,286.7 " stroke="#5673ad" stroke-width="0.8" fill="none"/>
<circle cx="371.1" cy="298.1" r="0.8" fill="#5673ad"/>
<circle cx="378.6" cy="290.8" r="0.8" fill="#5673ad"/>
<circle cx="369.5" cy="296.8" r="0.8" fill="#5673ad"/>
<circle cx="377.1" cy="290.7" r="0.8" fill="#5673ad"/>
<circle cx="371.5" cy="291.5" r="0.8" fill="#5673ad"/>
<circle cx="370.0" cy="291.8" r="0.8" fill="#5673ad"/>
<circle cx="378.3" cy="296.4" r="0.8" fill="#5673ad"/>
<circle cx="379.7" cy="293.8" r="0.8" fill="#5673ad"/>
<path d="M368.1,297.1 L374.1,289.1 L379.1,298.1 M370.1,290.1 L377.1,299.1" stroke="#3a3a3a" stroke-width="0.45" fill="none"/>
<circle cx="390.3" cy="293.4" r="7.7" fill="#f1bb3d" stroke="#3d64ab" stroke-width="1.5"/>
<path d="M389.8,290.0 L389.6,287.6 M385.6,295.2 L387.9,296.6 M394.5,294.2 L392.7,294.4 M389.1,289.7 L386.9,287.8 M390.3,294.0 L389.5,296.4 M391.0,295.6 L393.0,294.2 M385.5,295.3 L384.3,297.5 M391.5,296.8 L392.4,294.1 M392.8,291.1 L391.1,290.1 M392.8,296.3 L394.3,294.0 M389.0,288.2 L388.7,289.9 M387.6,294.3 L388.0,296.4 M387.6,290.7 L386.5,293.2 " stroke="#5673ad" stroke-width="0.8" fill="none"/>
<circle cx="394.3" cy="292.9" r="0.8" fill="#5673ad"/>
<circle cx="391.2" cy="293.9" r="0.8" fill="#5673ad"/>
<circle cx="391.1" cy="292.5" r="0.8" fill="#5673ad"/>
<circle cx="389.1" cy="289.0" r="0.8" fill="#5673ad"/>
<circle cx="388.4" cy="298.4" r="0.8" fill="#5673ad"/>
<circle cx="392.5" cy="293.7" r="0.8" fill="#5673ad"/>
<circle cx="389.4" cy="293.7" r="0.8" fill="#5673ad"/>
<circle cx="391.7" cy="290.8" r="0.8" fill="#5673ad"/>
<path d="M384.3,296.4 L390.3,288.4 L395.3,297.4 M386.3,289.4 L393.3,298.4" stroke="#3a3a3a" stroke-width="0.45" fill="none"/>
<circle cx="373.4" cy="307.5" r="7.7" fill="#f1bb3d" stroke="#3d64ab" stroke-width="1.5"/>
<path d="M374.2,308.4 L372.7,306.9 M370.3,304.3 L371.4,301.5 M372.4,305.3 L370.7,305.5 M377.2,307.8 L376.8,306.0 M373.0,310.7 L372.2,308.5 M369.8,304.4 L367.7,306.0 M374.7,306.6 L377.1,305.5 M375.9,310.2 L373.9,308.2 M370.4,310.4 L372.4,308.5 M376.9,306.2 L375.9,304.7 M372.5,302.6 L370.9,300.6 M374.6,312.6 L377.5,312.2 M368.6,306.4 L367.4,309.0 " stroke="#5673ad" stroke-width="0.8" fill="none"/>
<circle cx="375.6" cy="304.7" r="0.8" fill="#5673ad"/>
<circle cx="376.9" cy="309.5" r="0.8" fill="#5673ad"/>
<circle cx="368.4" cy="305.9" r="0.8" fill="#5673ad"/>
<circle cx="372.4" cy="307.6" r="0.8" fill="#5673ad"/>
<circle cx="373.9" cy="306.1" r="0.8" fill="#5673ad"/>
<circle cx="374.2" cy="305.1" r="0.8" fill="#5673ad"/>
<circle cx="370.7" cy="312.1" r="0.8" fill="#5673ad"/>
<circle cx="374.9" cy="309.3" r="0.8" fill="#5673ad"/>
<path d="M367.4,310.5 L373.4,302.5 L378.4,311.5 M369.4,303.5 L376.4,312.5" stroke="#3a3a3a" stroke-width="0.45" fill="none"/>
<circle cx="390.3" cy="306.8" r="7.7" fill="#f1bb3d" stroke="#3d64ab" stroke-width="1.5"/>
<path d="M385.6,306.3 L387.0,304.2 M393.9,305.5 L395.5,305.0 M391.0,310.7 L390.4,313.2 M387.7,303.8 L389.0,301.8 M389.0,309.9 L390.6,307.6 M391.6,311.7 L393.9,311.2 M388.1,305.7 L385.9,305.2 M389.6,306.2 L391.8,305.8 M386.3,309.7 L384.2,308.8 M389.8,305.5 L387.7,305.0 M395.4,305.4 L395.1,307.6 M392.8,309.4 L394.0,306.8 M387.2,307.3 L388.1,309.5 " stroke="#5673ad" stroke-width="0.8" fill="none"/>
<circle cx="392.2" cy="305.8" r="0.8" fill="#5673ad"/>
<circle cx="390.5" cy="305.9" r="0.8" fill="#5673ad"/>
<circle cx="391.3" cy="309.5" r="0.8" fill="#5673ad"/>
<circle cx="389.0" cy="303.7" r="0.8" fill="#5673ad"/>
<circle cx="387.4" cy="310.5" r="0.8" fill="#5673ad"/>
<circle cx="394.4" cy="309.9" r="0.8" fill="#5673ad"/>
<circle cx="393.4" cy="309.8" r="0.8" fill="#5673ad"/>
<circle cx="390.3" cy="309.5" r="0.8" fill="#5673ad"/>
<path d="M384.3,309.8 L390.3,301.8 L395.3,310.8 M386.3,302.8 L393.3,311.8" stroke="#3a3a3a" stroke-width="0.45" fill="none"/>
<circle cx="376.2" cy="318.1" r="7.7" fill="#f1bb3d" stroke="#3d64ab" stroke-width="1.5"/>
<path d="M372.6,317.4 L371.1,318.9 M374.0,317.7 L374.7,320.0 M373.6,315.0 L375.0,313.1 M377.8,316.0 L377.7,313.3 M378.7,316.3 L377.6,319.0 M377.3,323.5 L378.6,322.4 M376.5,322.8 L376.4,324.4 M378.0,315.0 L378.4,313.4 M372.5,320.7 L374.3,320.9 M374.0,313.3 L375.7,313.0 M371.4,317.9 L368.9,317.9 M376.7,319.5 L378.0,320.4 M372.5,316.8 L370.9,316.1 " stroke="#5673ad" stroke-width="0.8" fill="none"/>
<circle cx="377.3" cy="320.6" r="0.8" fill="#5673ad"/>
<circle cx="379.4" cy="313.1" r="0.8" fill="#5673ad"/>
<circle cx="377.9" cy="317.3" r="0.8" fill="#5673ad"/>
<circle cx="381.6" cy="320.3" r="0.8" fill="#5673ad"/>
<circle cx="371.1" cy="319.3" r="0.8" fill="#5673ad"/>
<circle cx="374.3" cy="321.7" r="0.8" fill="#5673ad"/>
<circle cx="372.3" cy="317.7" r="0.8" fill="#5673ad"/>
<circle cx="375.6" cy="317.7" r="0.8" fill="#5673ad"/>
<path d="M370.2,321.1 L376.2,313.1 L381.2,322.1 M372.2,314.1 L379.2,323.1" stroke="#3a3a3a" stroke-width="0.45" fill="none"/>
<circle cx="388.2" cy="328" r="7.7" fill="#f1bb3d" stroke="#3d64ab" stroke-width="1.5"/>
<path d="M386.7,323.2 L387.6,325.2 M388.0,324.5 L388.5,326.2 M387.5,327.9 L389.6,326.3 M386.8,323.1 L385.3,321.6 M385.0,325.7 L387.7,325.4 M387.9,333.2 L387.8,330.6 M389.6,324.8 L391.8,323.1 M386.6,323.5 L386.7,321.4 M387.9,326.6 L386.7,328.4 M391.5,328.2 L389.9,326.4 M388.8,333.3 L387.8,331.6 M386.0,324.5 L383.9,324.1 M392.6,328.0 L391.8,325.5 " stroke="#5673ad" stroke-width="0.8" fill="none"/>
<circle cx="389.1" cy="327.9" r="0.8" fill="#5673ad"/>
<circle cx="384.3" cy="324.6" r="0.8" fill="#5673ad"/>
<circle cx="388.0" cy="331.8" r="0.8" fill="#5673ad"/>
<circle cx="390.7" cy="328.8" r="0.8" fill="#5673ad"/>
<circle cx="386.9" cy="329.3" r="0.8" fill="#5673ad"/>
<circle cx="388.2" cy="333.7" r="0.8" fill="#5673ad"/>
<circle cx="384.1" cy="326.7" r="0.8" fill="#5673ad"/>
<circle cx="392.6" cy="327.1" r="0.8" fill="#5673ad"/>
<path d="M382.2,331.0 L388.2,323.0 L393.2,332.0 M384.2,324.0 L391.2,333.0" stroke="#3a3a3a" stroke-width="0.45" fill="none"/>
<circle cx="374.8" cy="342.1" r="7.7" fill="#f1bb3d" stroke="#3d64ab" stroke-width="1.5"/>
<path d="M379.2,342.0 L379.8,340.4 M370.9,339.4 L373.7,340.2 M376.8,345.3 L377.9,347.2 M373.8,341.2 L375.8,340.5 M370.6,341.4 L369.3,342.8 M372.5,338.7 L371.9,341.2 M374.6,342.7 L374.7,344.3 M377.4,346.1 L375.3,347.9 M374.8,340.9 L377.7,340.7 M379.5,344.4 L377.5,345.4 M377.5,341.6 L374.6,341.2 M374.1,338.4 L376.8,338.0 M373.3,341.0 L371.8,339.4 " stroke="#5673ad" stroke-width="0.8" fill="none"/>
<circle cx="375.2" cy="343.4" r="0.8" fill="#5673ad"/>
<circle cx="372.7" cy="341.7" r="0.8" fill="#5673ad"/>
<circle cx="370.2" cy="343.8" r="0.8" fill="#5673ad"/>
<circle cx="371.8" cy="343.0" r="0.8" fill="#5673ad"/>
<circle cx="371.4" cy="340.2" r="0.8" fill="#5673ad"/>
<circle cx="375.6" cy="337.8" r="0.8" fill="#5673ad"/>
<circle cx="380.7" cy="342.0" r="0.8" fill="#5673ad"/>
<circle cx="374.5" cy="339.2" r="0.8" fill="#5673ad"/>
<path d="M368.8,345.1 L374.8,337.1 L379.8,346.1 M370.8,338.1 L377.8,347.1" stroke="#3a3a3a" stroke-width="0.45" fill="none"/>
<circle cx="392.4" cy="349.2" r="7.7" fill="#f1bb3d" stroke="#3d64ab" stroke-width="1.5"/>
<path d="M396.3,352.6 L396.8,350.2 M390.6,351.4 L389.7,349.3 M388.7,346.8 L388.8,345.0 M392.4,354.6 L394.9,353.2 M393.7,349.5 L393.4,351.7 M391.1,348.0 L389.6,347.6 M396.3,351.5 L393.9,350.8 M389.7,351.9 L390.2,353.9 M392.2,344.2 L393.7,344.9 M394.0,345.1 L394.2,343.3 M389.9,350.5 L390.7,348.6 M389.3,344.7 L388.2,346.8 M392.3,343.9 L390.4,344.8 " stroke="#5673ad" stroke-width="0.8" fill="none"/>
<circle cx="397.0" cy="352.4" r="0.8" fill="#5673ad"/>
<circle cx="393.9" cy="350.0" r="0.8" fill="#5673ad"/>
<circle cx="388.6" cy="347.6" r="0.8" fill="#5673ad"/>
<circle cx="391.1" cy="346.2" r="0.8" fill="#5673ad"/>
<circle cx="392.7" cy="347.6" r="0.8" fill="#5673ad"/>
<circle cx="393.5" cy="354.0" r="0.8" fill="#5673ad"/>
<circle cx="395.3" cy="350.8" r="0.8" fill="#5673ad"/>
<circle cx="391.6" cy="344.3" r="0.8" fill="#5673ad"/>
<path d="M386.4,352.2 L392.4,344.2 L397.4,353.2 M388.4,345.2 L395.4,354.2" stroke="#3a3a3a" stroke-width="0.45" fill="none"/>
<circle cx="378.3" cy="352" r="7.7" fill="#f1bb3d" stroke="#3d64ab" stroke-width="1.5"/>
<path d="M377.9,354.0 L376.3,356.1 M377.0,353.4 L376.4,351.1 M382.9,349.4 L384.8,348.3 M379.3,349.1 L378.4,351.0 M383.1,349.9 L383.1,352.0 M376.1,354.5 L374.5,355.8 M379.7,355.9 L380.4,353.7 M380.4,348.5 L381.6,350.8 M380.4,350.0 L382.7,350.3 M374.3,350.9 L376.7,350.3 M378.8,350.7 L376.2,349.9 M379.7,352.8 L379.4,350.0 M382.1,354.2 L383.7,356.3 " stroke="#5673ad" stroke-width="0.8" fill="none"/>
<circle cx="376.5" cy="349.6" r="0.8" fill="#5673ad"/>
<circle cx="379.3" cy="357.2" r="0.8" fill="#5673ad"/>
<circle cx="373.1" cy="351.3" r="0.8" fill="#5673ad"/>
<circle cx="375.6" cy="354.2" r="0.8" fill="#5673ad"/>
<circle cx="383.1" cy="351.0" r="0.8" fill="#5673ad"/>
<circle cx="373.9" cy="352.2" r="0.8" fill="#5673ad"/>
<circle cx="377.4" cy="347.0" r="0.8" fill="#5673ad"/>
<circle cx="381.6" cy="350.0" r="0.8" fill="#5673ad"/>
<path d="M372.3,355.0 L378.3,347.0 L383.3,356.0 M374.3,348.0 L381.3,357.0" stroke="#3a3a3a" stroke-width="0.45" fill="none"/>
<circle cx="370" cy="367.8" r="7.7" fill="#f1bb3d" stroke="#3d64ab" stroke-width="1.5"/>
<path d="M372.1,363.8 L373.7,361.6 M372.6,363.3 L375.0,362.7 M365.4,367.1 L366.1,365.1 M368.2,368.8 L368.0,365.8 M368.4,369.4 L369.0,371.4 M368.6,373.0 L370.4,373.7 M373.3,370.7 L373.6,369.0 M373.4,369.2 L371.0,367.8 M371.8,368.2 L372.5,369.9 M370.4,372.4 L368.9,371.4 M371.2,370.5 L372.4,372.8 M368.5,371.6 L369.4,369.5 M369.7,373.0 L371.4,371.9 " stroke="#5673ad" stroke-width="0.8" fill="none"/>
<circle cx="364.4" cy="366.1" r="0.8" fill="#5673ad"/>
<circle cx="367.2" cy="368.1" r="0.8" fill="#5673ad"/>
<circle cx="375.6" cy="369.6" r="0.8" fill="#5673ad"/>
<circle cx="371.2" cy="364.3" r="0.8" fill="#5673ad"/>
<circle cx="365.8" cy="367.1" r="0.8" fill="#5673ad"/>
<circle cx="369.1" cy="373.7" r="0.8" fill="#5673ad"/>
<circle cx="368.4" cy="365.4" r="0.8" fill="#5673ad"/>
<circle cx="374.1" cy="368.1" r="0.8" fill="#5673ad"/>
<path d="M364.0,370.8 L370.0,362.8 L375.0,371.8 M366.0,363.8 L373.0,372.8" stroke="#3a3a3a" stroke-width="0.45" fill="none"/>
<circle cx="397.1" cy="366.4" r="7.7" fill="#f1bb3d" stroke="#3d64ab" stroke-width="1.5"/>
<path d="M393.7,369.9 L393.2,367.6 M398.3,368.2 L397.5,369.9 M399.8,363.5 L397.8,361.2 M396.7,370.4 L398.2,372.6 M402.1,366.4 L403.6,364.2 M399.6,367.8 L399.2,366.2 M393.4,366.9 L395.7,366.2 M399.0,364.0 L399.5,362.0 M398.5,365.6 L399.4,364.0 M393.3,365.3 L394.8,367.6 M395.9,369.2 L397.7,370.1 M392.5,367.4 L390.9,369.3 M399.8,368.5 L397.0,369.2 " stroke="#5673ad" stroke-width="0.8" fill="none"/>
<circle cx="399.4" cy="362.1" r="0.8" fill="#5673ad"/>
<circle cx="400.8" cy="366.7" r="0.8" fill="#5673ad"/>
<circle cx="396.4" cy="363.6" r="0.8" fill="#5673ad"/>
<circle cx="393.4" cy="364.8" r="0.8" fill="#5673ad"/>
<circle cx="403.1" cy="366.8" r="0.8" fill="#5673ad"/>
<circle cx="397.9" cy="363.8" r="0.8" fill="#5673ad"/>
<circle cx="394.7" cy="364.3" r="0.8" fill="#5673ad"/>
<circle cx="394.0" cy="369.5" r="0.8" fill="#5673ad"/>
<path d="M391.1,369.4 L397.1,361.4 L402.1,370.4 M393.1,362.4 L400.1,371.4" stroke="#3a3a3a" stroke-width="0.45" fill="none"/>
<circle cx="382.8" cy="376.4" r="7.7" fill="#f1bb3d" stroke="#3d64ab" stroke-width="1.5"/>
<path d="M381.8,379.5 L379.9,381.0 M382.7,378.9 L382.5,376.9 M386.7,375.0 L386.3,373.0 M383.6,374.9 L384.6,376.2 M380.8,372.2 L381.7,374.1 M385.0,372.8 L386.5,373.8 M383.9,378.0 L382.5,378.9 M386.0,374.7 L383.5,374.5 M383.3,371.4 L381.8,372.8 M382.2,376.8 L380.2,378.3 M387.7,375.8 L386.4,373.8 M385.9,376.8 L384.6,378.8 M385.5,378.5 L382.8,378.3 " stroke="#5673ad" stroke-width="0.8" fill="none"/>
<circle cx="384.9" cy="372.2" r="0.8" fill="#5673ad"/>
<circle cx="385.7" cy="380.8" r="0.8" fill="#5673ad"/>
<circle cx="386.4" cy="373.8" r="0.8" fill="#5673ad"/>
<circle cx="380.3" cy="379.8" r="0.8" fill="#5673ad"/>
<circle cx="386.0" cy="380.3" r="0.8" fill="#5673ad"/>
<circle cx="387.1" cy="376.0" r="0.8" fill="#5673ad"/>
<circle cx="381.6" cy="371.0" r="0.8" fill="#5673ad"/>
<circle cx="384.7" cy="381.9" r="0.8" fill="#5673ad"/>
<path d="M376.8,379.4 L382.8,371.4 L387.8,380.4 M378.8,372.4 L385.8,381.4" stroke="#3a3a3a" stroke-width="0.45" fill="none"/>
<circle cx="374.3" cy="387.8" r="7.7" fill="#f1bb3d" stroke="#3d64ab" stroke-width="1.5"/>
<path d="M372.6,386.1 L374.2,387.0 M370.2,385.7 L368.8,388.2 M371.9,390.7 L374.0,392.7 M377.7,391.7 L375.5,391.1 M371.7,386.8 L374.2,385.1 M376.0,383.9 L378.0,385.8 M373.1,392.9 L373.2,395.2 M375.4,385.7 L373.9,385.3 M376.6,388.3 L379.5,388.0 M372.6,385.2 L371.4,383.0 M371.2,390.7 L371.7,389.2 M375.5,391.4 L376.8,393.0 M372.2,386.8 L370.3,386.6 " stroke="#5673ad" stroke-width="0.8" fill="none"/>
<circle cx="371.2" cy="386.4" r="0.8" fill="#5673ad"/>
<circle cx="373.6" cy="386.9" r="0.8" fill="#5673ad"/>
<circle cx="373.2" cy="385.8" r="0.8" fill="#5673ad"/>
<circle cx="378.8" cy="386.6" r="0.8" fill="#5673ad"/>
<circle cx="370.5" cy="388.5" r="0.8" fill="#5673ad"/>
<circle cx="370.7" cy="384.3" r="0.8" fill="#5673ad"/>
<circle cx="374.5" cy="382.6" r="0.8" fill="#5673ad"/>
<circle cx="368.3" cy="388.3" r="0.8" fill="#5673ad"/>
<path d="M368.3,390.8 L374.3,382.8 L379.3,391.8 M370.3,383.8 L377.3,392.8" stroke="#3a3a3a" stroke-width="0.45" fill="none"/>
<circle cx="392.8" cy="390.7" r="7.7" fill="#f1bb3d" stroke="#3d64ab" stroke-width="1.5"/>
<path d="M395.5,386.4 L393.7,387.5 M388.0,388.6 L385.7,388.2 M388.0,392.9 L387.4,394.3 M392.0,385.5 L391.7,383.2 M392.8,387.7 L391.5,386.8 M395.4,393.3 L393.3,393.3 M397.1,392.2 L395.3,391.9 M391.6,393.9 L391.7,395.5 M397.4,387.8 L396.0,385.4 M388.5,393.0 L388.9,395.6 M388.0,388.6 L390.2,390.1 M395.7,393.5 L397.1,393.1 M392.9,393.7 L392.2,395.1 " stroke="#5673ad" stroke-width="0.8" fill="none"/>
<circle cx="397.1" cy="387.4" r="0.8" fill="#5673ad"/>
<circle cx="389.9" cy="392.9" r="0.8" fill="#5673ad"/>
<circle cx="391.7" cy="390.0" r="0.8" fill="#5673ad"/>
<circle cx="398.4" cy="391.8" r="0.8" fill="#5673ad"/>
<circle cx="391.3" cy="394.7" r="0.8" fill="#5673ad"/>
<circle cx="398.2" cy="388.3" r="0.8" fill="#5673ad"/>
<circle cx="390.1" cy="391.2" r="0.8" fill="#5673ad"/>
<circle cx="391.2" cy="396.2" r="0.8" fill="#5673ad"/>
<path d="M386.8,393.7 L392.8,385.7 L397.8,394.7 M388.8,386.7 L395.8,395.7" stroke="#3a3a3a" stroke-width="0.45" fill="none"/>
<circle cx="377.8" cy="400.7" r="7.7" fill="#f1bb3d" stroke="#3d64ab" stroke-width="1.5"/>
<path d="M379.7,399.2 L380.8,397.5 M375.6,401.1 L377.7,399.0 M379.1,404.9 L380.1,407.5 M379.5,401.3 L379.2,399.3 M381.9,397.7 L381.6,396.0 M376.0,395.7 L374.5,396.2 M378.3,403.7 L377.9,402.0 M378.9,403.1 L377.5,400.8 M374.7,403.9 L376.5,402.3 M378.2,403.7 L380.4,402.6 M377.1,405.0 L379.6,406.6 M374.1,402.2 L372.5,401.9 M375.4,399.0 L375.4,401.7 " stroke="#5673ad" stroke-width="0.8" fill="none"/>
<circle cx="380.5" cy="402.4" r="0.8" fill="#5673ad"/>
<circle cx="377.9" cy="397.7" r="0.8" fill="#5673ad"/>
<circle cx="377.0" cy="405.1" r="0.8" fill="#5673ad"/>
<circle cx="380.0" cy="405.9" r="0.8" fill="#5673ad"/>
<circle cx="378.9" cy="400.6" r="0.8" fill="#5673ad"/>
<circle cx="372.8" cy="401.9" r="0.8" fill="#5673ad"/>
<circle cx="373.5" cy="404.5" r="0.8" fill="#5673ad"/>
<circle cx="375.3" cy="400.7" r="0.8" fill="#5673ad"/>
<path d="M371.8,403.7 L377.8,395.7 L382.8,404.7 M373.8,396.7 L380.8,405.7" stroke="#3a3a3a" stroke-width="0.45" fill="none"/>
<circle cx="375" cy="414.9" r="7.7" fill="#f1bb3d" stroke="#3d64ab" stroke-width="1.5"/>
<path d="M370.9,413.4 L369.3,415.3 M375.8,411.0 L373.0,410.9 M373.4,411.3 L375.1,410.7 M375.4,412.7 L374.0,411.5 M370.5,416.7 L371.1,414.1 M375.3,418.7 L375.8,421.1 M374.0,414.9 L371.9,413.4 M370.4,412.6 L371.1,414.2 M378.8,415.3 L376.9,416.2 M374.6,419.8 L377.2,421.1 M371.3,413.2 L371.8,411.4 M376.9,417.3 L378.8,417.9 M372.1,412.2 L371.9,414.5 " stroke="#5673ad" stroke-width="0.8" fill="none"/>
<circle cx="379.6" cy="417.8" r="0.8" fill="#5673ad"/>
<circle cx="376.4" cy="417.6" r="0.8" fill="#5673ad"/>
<circle cx="377.7" cy="419.1" r="0.8" fill="#5673ad"/>
<circle cx="377.6" cy="410.2" r="0.8" fill="#5673ad"/>
<circle cx="378.6" cy="416.3" r="0.8" fill="#5673ad"/>
<circle cx="373.2" cy="417.0" r="0.8" fill="#5673ad"/>
<circle cx="376.2" cy="414.7" r="0.8" fill="#5673ad"/>
<circle cx="369.8" cy="415.3" r="0.8" fill="#5673ad"/>
<path d="M369.0,417.9 L375.0,409.9 L380.0,418.9 M371.0,410.9 L378.0,419.9" stroke="#3a3a3a" stroke-width="0.45" fill="none"/>
<circle cx="390" cy="412.1" r="7.7" fill="#f1bb3d" stroke="#3d64ab" stroke-width="1.5"/>
<path d="M392.1,411.9 L389.6,412.6 M392.6,412.8 L393.9,411.7 M387.7,414.0 L386.2,414.7 M395.4,413.3 L395.6,410.7 M390.4,414.8 L388.6,414.3 M384.8,413.4 L383.5,414.9 M394.3,411.6 L396.3,412.1 M389.2,411.0 L387.8,413.1 M392.8,408.9 L394.4,407.5 M386.1,415.3 L384.1,417.1 M390.7,415.3 L391.6,417.4 M391.3,414.2 L391.8,416.4 M388.7,415.5 L391.2,415.4 " stroke="#5673ad" stroke-width="0.8" fill="none"/>
<circle cx="391.8" cy="410.0" r="0.8" fill="#5673ad"/>
<circle cx="388.8" cy="413.2" r="0.8" fill="#5673ad"/>
<circle cx="388.7" cy="408.7" r="0.8" fill="#5673ad"/>
<circle cx="389.9" cy="412.9" r="0.8" fill="#5673ad"/>
<circle cx="391.3" cy="414.9" r="0.8" fill="#5673ad"/>
<circle cx="385.5" cy="415.7" r="0.8" fill="#5673ad"/>
<circle cx="389.3" cy="409.1" r="0.8" fill="#5673ad"/>
<circle cx="388.5" cy="413.9" r="0.8" fill="#5673ad"/>
<path d="M384.0,415.1 L390.0,407.1 L395.0,416.1 M386.0,408.1 L393.0,417.1" stroke="#3a3a3a" stroke-width="0.45" fill="none"/>
<circle cx="395.7" cy="426.3" r="7.7" fill="#f1bb3d" stroke="#3d64ab" stroke-width="1.5"/>
<path d="M398.7,425.0 L399.0,422.4 M396.4,425.9 L395.4,427.7 M400.2,428.9 L399.0,431.2 M394.4,426.1 L393.0,427.3 M397.8,426.8 L396.5,426.0 M394.3,429.6 L392.7,429.2 M394.9,423.6 L394.5,421.1 M397.2,428.3 L396.7,430.8 M392.9,428.2 L394.1,426.8 M394.9,429.4 L395.2,430.9 M400.0,427.0 L397.5,425.9 M398.7,425.8 L397.3,423.3 M396.7,430.8 L395.2,428.2 " stroke="#5673ad" stroke-width="0.8" fill="none"/>
<circle cx="397.7" cy="424.2" r="0.8" fill="#5673ad"/>
<circle cx="394.5" cy="425.0" r="0.8" fill="#5673ad"/>
<circle cx="392.3" cy="428.0" r="0.8" fill="#5673ad"/>
<circle cx="399.2" cy="427.7" r="0.8" fill="#5673ad"/>
<circle cx="393.7" cy="430.0" r="0.8" fill="#5673ad"/>
<circle cx="395.3" cy="428.6" r="0.8" fill="#5673ad"/>
<circle cx="392.3" cy="428.7" r="0.8" fill="#5673ad"/>
<circle cx="398.1" cy="430.5" r="0.8" fill="#5673ad"/>
<path d="M389.7,429.3 L395.7,421.3 L400.7,430.3 M391.7,422.3 L398.7,431.3" stroke="#3a3a3a" stroke-width="0.45" fill="none"/>
<circle cx="375" cy="432.8" r="7.7" fill="#f1bb3d" stroke="#3d64ab" stroke-width="1.5"/>
<path d="M375.1,434.5 L373.9,436.3 M377.5,436.2 L376.7,434.0 M374.7,432.0 L373.2,433.3 M378.2,434.1 L380.3,434.9 M371.8,430.9 L370.9,432.5 M378.2,433.3 L380.0,431.8 M374.7,437.3 L375.5,439.3 M371.0,429.2 L369.4,431.0 M379.5,431.1 L377.8,429.3 M372.0,434.7 L371.6,437.4 M377.5,430.5 L378.8,429.6 M377.6,435.8 L376.8,437.7 M377.1,432.5 L377.8,434.2 " stroke="#5673ad" stroke-width="0.8" fill="none"/>
<circle cx="373.8" cy="430.2" r="0.8" fill="#5673ad"/>
<circle cx="379.4" cy="432.8" r="0.8" fill="#5673ad"/>
<circle cx="372.7" cy="434.6" r="0.8" fill="#5673ad"/>
<circle cx="370.2" cy="433.0" r="0.8" fill="#5673ad"/>
<circle cx="370.5" cy="431.4" r="0.8" fill="#5673ad"/>
<circle cx="369.9" cy="430.8" r="0.8" fill="#5673ad"/>
<circle cx="378.4" cy="432.1" r="0.8" fill="#5673ad"/>
<circle cx="371.8" cy="437.4" r="0.8" fill="#5673ad"/>
<path d="M369.0,435.8 L375.0,427.8 L380.0,436.8 M371.0,428.8 L378.0,437.8" stroke="#3a3a3a" stroke-width="0.45" fill="none"/>
<circle cx="376.4" cy="448.4" r="7.7" fill="#f1bb3d" stroke="#3d64ab" stroke-width="1.5"/>
<path d="M374.6,452.7 L373.7,450.3 M381.3,447.3 L382.6,449.3 M372.3,448.6 L371.0,450.1 M376.4,444.4 L376.5,446.2 M375.3,450.5 L373.7,450.3 M377.7,449.0 L379.8,450.5 M379.2,450.8 L379.5,448.6 M379.1,452.8 L380.2,451.6 M376.3,452.3 L376.9,450.3 M375.8,445.7 L375.4,443.8 M374.0,452.5 L375.5,450.3 M373.1,446.9 L372.5,444.6 M378.8,444.1 L380.2,445.6 " stroke="#5673ad" stroke-width="0.8" fill="none"/>
<circle cx="375.0" cy="445.9" r="0.8" fill="#5673ad"/>
<circle cx="376.7" cy="449.0" r="0.8" fill="#5673ad"/>
<circle cx="371.4" cy="445.4" r="0.8" fill="#5673ad"/>
<circle cx="378.6" cy="448.0" r="0.8" fill="#5673ad"/>
<circle cx="374.9" cy="444.8" r="0.8" fill="#5673ad"/>
<circle cx="373.8" cy="445.6" r="0.8" fill="#5673ad"/>
<circle cx="381.8" cy="446.0" r="0.8" fill="#5673ad"/>
<circle cx="381.2" cy="449.9" r="0.8" fill="#5673ad"/>
<path d="M370.4,451.4 L376.4,443.4 L381.4,452.4 M372.4,444.4 L379.4,453.4" stroke="#3a3a3a" stroke-width="0.45" fill="none"/>
<circle cx="460.2" cy="370.2" r="1.3" fill="#e52424"/>
<ellipse cx="403" cy="291.3" rx="1.9" ry="1.6" fill="#e52424"/>
<ellipse cx="421.4" cy="299.8" rx="1.9" ry="1.6" fill="#e52424"/>
<ellipse cx="382.5" cy="311" rx="1.9" ry="1.6" fill="#e52424"/>
<ellipse cx="397.4" cy="312.2" rx="1.9" ry="1.6" fill="#e52424"/>
<ellipse cx="376.2" cy="325.5" rx="1.9" ry="1.6" fill="#e52424"/>
<ellipse cx="396" cy="330.1" rx="1.9" ry="1.6" fill="#e52424"/>
<ellipse cx="376.2" cy="332.3" rx="1.9" ry="1.6" fill="#e52424"/>
<ellipse cx="424.5" cy="323.1" rx="1.9" ry="1.6" fill="#e52424"/>
<ellipse cx="375.5" cy="349.2" rx="1.9" ry="1.6" fill="#e52424"/>
<ellipse cx="418.6" cy="349.9" rx="1.9" ry="1.6" fill="#e52424"/>
<ellipse cx="439" cy="352.7" rx="1.9" ry="1.6" fill="#e52424"/>
<ellipse cx="410" cy="366.9" rx="1.9" ry="1.6" fill="#e52424"/>
<ellipse cx="417" cy="372.6" rx="1.9" ry="1.6" fill="#e52424"/>
<ellipse cx="434.2" cy="369.3" rx="1.9" ry="1.6" fill="#e52424"/>
<ellipse cx="433.5" cy="383.5" rx="1.9" ry="1.6" fill="#e52424"/>
<ellipse cx="370.7" cy="391.4" rx="1.9" ry="1.6" fill="#e52424"/>
<ellipse cx="420.9" cy="392.8" rx="1.9" ry="1.6" fill="#e52424"/>
<ellipse cx="444.2" cy="392.8" rx="1.9" ry="1.6" fill="#e52424"/>
<ellipse cx="400.4" cy="402.1" rx="1.9" ry="1.6" fill="#e52424"/>
<ellipse cx="420.9" cy="402.8" rx="1.9" ry="1.6" fill="#e52424"/>
<ellipse cx="382.1" cy="407.1" rx="1.9" ry="1.6" fill="#e52424"/>
<ellipse cx="435.6" cy="419.2" rx="1.9" ry="1.6" fill="#e52424"/>
<ellipse cx="414.2" cy="422.1" rx="1.9" ry="1.6" fill="#e52424"/>
<ellipse cx="444.2" cy="432" rx="1.9" ry="1.6" fill="#e52424"/>
<ellipse cx="393.2" cy="431.3" rx="1.9" ry="1.6" fill="#e52424"/>
<ellipse cx="402.8" cy="434.2" rx="1.9" ry="1.6" fill="#e52424"/>
<ellipse cx="396.4" cy="445.6" rx="1.9" ry="1.6" fill="#e52424"/>
<ellipse cx="411.3" cy="447" rx="1.9" ry="1.6" fill="#e52424"/>
<ellipse cx="542.9" cy="316.5" rx="1.9" ry="1.6" fill="#e52424"/>
<ellipse cx="505.2" cy="324.8" rx="1.9" ry="1.6" fill="#e52424"/>
<ellipse cx="549.9" cy="325.3" rx="1.9" ry="1.6" fill="#e52424"/>
<ellipse cx="505.2" cy="335.4" rx="1.9" ry="1.6" fill="#e52424"/>
<ellipse cx="542.4" cy="338.4" rx="1.9" ry="1.6" fill="#e52424"/>
<ellipse cx="496.4" cy="351.7" rx="1.9" ry="1.6" fill="#e52424"/>
<ellipse cx="530.3" cy="355" rx="1.9" ry="1.6" fill="#e52424"/>
<ellipse cx="509.7" cy="382.6" rx="1.9" ry="1.6" fill="#e52424"/>
<ellipse cx="532.3" cy="380" rx="1.9" ry="1.6" fill="#e52424"/>
<ellipse cx="546.6" cy="380.6" rx="1.9" ry="1.6" fill="#e52424"/>
<ellipse cx="542.4" cy="385.1" rx="1.9" ry="1.6" fill="#e52424"/>
<ellipse cx="477.5" cy="402.2" rx="1.9" ry="1.6" fill="#e52424"/>
<ellipse cx="529.8" cy="398.9" rx="1.9" ry="1.6" fill="#e52424"/>
<ellipse cx="534.1" cy="408.9" rx="1.9" ry="1.6" fill="#e52424"/>
<ellipse cx="492.6" cy="421.5" rx="1.9" ry="1.6" fill="#e52424"/>
<ellipse cx="516.5" cy="421" rx="1.9" ry="1.6" fill="#e52424"/>
<ellipse cx="541.6" cy="422.3" rx="1.9" ry="1.6" fill="#e52424"/>
<ellipse cx="554.2" cy="429.8" rx="1.9" ry="1.6" fill="#e52424"/>
<ellipse cx="531.6" cy="434.1" rx="1.9" ry="1.6" fill="#e52424"/>
<ellipse cx="452.7" cy="308" rx="1.9" ry="1.6" fill="#e52424"/>
<ellipse cx="454.8" cy="333.7" rx="1.9" ry="1.6" fill="#e52424"/>
<ellipse cx="446" cy="392.7" rx="1.9" ry="1.6" fill="#e52424"/>
<ellipse cx="476.8" cy="403" rx="1.9" ry="1.6" fill="#e52424"/>
<ellipse cx="432.2" cy="414.3" rx="1.9" ry="1.6" fill="#e52424"/>
<ellipse cx="446" cy="432.2" rx="1.9" ry="1.6" fill="#e52424"/>
<ellipse cx="461.4" cy="441" rx="1.9" ry="1.6" fill="#e52424"/>
<ellipse cx="552.9" cy="320.3" rx="1.9" ry="1.6" fill="#3ba3e2"/>
<ellipse cx="554.2" cy="337.4" rx="1.9" ry="1.6" fill="#3ba3e2"/>
<ellipse cx="539.1" cy="339.9" rx="1.9" ry="1.6" fill="#3ba3e2"/>
<ellipse cx="523.3" cy="342.9" rx="1.9" ry="1.6" fill="#3ba3e2"/>
<ellipse cx="547.9" cy="355" rx="1.9" ry="1.6" fill="#3ba3e2"/>
<ellipse cx="506.4" cy="364.3" rx="1.9" ry="1.6" fill="#3ba3e2"/>
<ellipse cx="537.3" cy="360" rx="1.9" ry="1.6" fill="#3ba3e2"/>
<ellipse cx="548.4" cy="366.8" rx="1.9" ry="1.6" fill="#3ba3e2"/>
<ellipse cx="536.6" cy="372.6" rx="1.9" ry="1.6" fill="#3ba3e2"/>
<ellipse cx="544.9" cy="376.1" rx="1.9" ry="1.6" fill="#3ba3e2"/>
<ellipse cx="490.1" cy="375.6" rx="1.9" ry="1.6" fill="#3ba3e2"/>
<ellipse cx="499.6" cy="388.1" rx="1.9" ry="1.6" fill="#3ba3e2"/>
<ellipse cx="524" cy="391.4" rx="1.9" ry="1.6" fill="#3ba3e2"/>
<ellipse cx="539.8" cy="387.1" rx="1.9" ry="1.6" fill="#3ba3e2"/>
<ellipse cx="550.4" cy="394.6" rx="1.9" ry="1.6" fill="#3ba3e2"/>
<ellipse cx="502.7" cy="403.9" rx="1.9" ry="1.6" fill="#3ba3e2"/>
<ellipse cx="528.3" cy="402.2" rx="1.9" ry="1.6" fill="#3ba3e2"/>
<ellipse cx="541.6" cy="398.1" rx="1.9" ry="1.6" fill="#3ba3e2"/>
<ellipse cx="496.4" cy="413.2" rx="1.9" ry="1.6" fill="#3ba3e2"/>
<ellipse cx="526.5" cy="416.5" rx="1.9" ry="1.6" fill="#3ba3e2"/>
<ellipse cx="541.6" cy="412.7" rx="1.9" ry="1.6" fill="#3ba3e2"/>
<ellipse cx="552.9" cy="411.5" rx="1.9" ry="1.6" fill="#3ba3e2"/>
<ellipse cx="529" cy="424.8" rx="1.9" ry="1.6" fill="#3ba3e2"/>
<ellipse cx="548.4" cy="420.3" rx="1.9" ry="1.6" fill="#3ba3e2"/>
<ellipse cx="549.1" cy="425.8" rx="1.9" ry="1.6" fill="#3ba3e2"/>
<ellipse cx="524" cy="431.6" rx="1.9" ry="1.6" fill="#3ba3e2"/>
<ellipse cx="530.8" cy="432.8" rx="1.9" ry="1.6" fill="#3ba3e2"/>
<ellipse cx="524.8" cy="440.4" rx="1.9" ry="1.6" fill="#3ba3e2"/>
<ellipse cx="493.8" cy="405" rx="1.9" ry="1.6" fill="#3ba3e2"/>
<ellipse cx="500" cy="418.4" rx="1.9" ry="1.6" fill="#3ba3e2"/>
<ellipse cx="516.4" cy="424.5" rx="1.9" ry="1.6" fill="#3ba3e2"/>
<path d="M512.1,270 C513,272 513.6,273.5 513.6,275.7" stroke="#555" stroke-width="0.8" fill="none"/>
<rect x="510" y="275.7" width="8.1" height="10" fill="#5e6474"/>
<rect x="510" y="285.7" width="8.1" height="60" fill="url(#gRef)" stroke="#999" stroke-width="0.4"/>
<rect x="510" y="292.9" width="8.1" height="8.5" fill="#a9a9a9"/>
<path d="M510,295 H518.1 M510,297.2 H518.1 M510,299.4 H518.1" stroke="#888" stroke-width="0.5"/>
<rect x="512.4" y="345.7" width="4" height="9.3" fill="url(#gRef)" stroke="#999" stroke-width="0.4"/>
<circle cx="514" cy="323.6" r="0.8" fill="#333"/><circle cx="514" cy="330" r="0.8" fill="#333"/>
<rect x="574.3" y="282" width="6.2" height="177.2" fill="url(#gRod)"/>
<ellipse cx="577.4" cy="282.5" rx="3.1" ry="1.2" fill="#b5b5b5"/>
<rect x="574.3" y="317" width="6.2" height="124" fill="#7f8ea6"/>
<path d="M559.8,316.7 C570,317.7 585,320.2 594,322.2 L593.6,329.0 C583,327.5 570,325.0 560.2,323.6Z" fill="#d4963f" stroke="#e88a2e" stroke-width="0.6"/>
<path d="M560.5,319.6 C572,321.4 585,324.0 593.8,325.8" stroke="#b9822f" stroke-width="0.5" fill="none"/>
<ellipse cx="566.1" cy="321.7" rx="2.6" ry="1.5" fill="#fff"/>
<path d="M559.8,326.3 C570,327.3 585,329.8 594,331.8 L593.6,338.6 C583,337.1 570,334.6 560.2,333.2Z" fill="#d4963f" stroke="#e88a2e" stroke-width="0.6"/>
<path d="M560.5,329.2 C572,331.0 585,333.6 593.8,335.4" stroke="#b9822f" stroke-width="0.5" fill="none"/>
<path d="M559.8,336.0 C570,337.0 585,339.5 594,341.5 L593.6,348.3 C583,346.8 570,344.3 560.2,342.9Z" fill="#d4963f" stroke="#e88a2e" stroke-width="0.6"/>
<path d="M560.5,338.9 C572,340.7 585,343.3 593.8,345.1" stroke="#b9822f" stroke-width="0.5" fill="none"/>
<ellipse cx="564.8" cy="341.0" rx="2.6" ry="1.5" fill="#fff"/>
<path d="M559.8,345.6 C570,346.6 585,349.1 594,351.1 L593.6,357.9 C583,356.4 570,353.9 560.2,352.5Z" fill="#d4963f" stroke="#e88a2e" stroke-width="0.6"/>
<path d="M560.5,348.5 C572,350.3 585,352.9 593.8,354.8" stroke="#b9822f" stroke-width="0.5" fill="none"/>
<ellipse cx="569.1" cy="350.6" rx="2.6" ry="1.5" fill="#fff"/>
<path d="M559.8,355.3 C570,356.3 585,358.8 594,360.8 L593.6,367.6 C583,366.1 570,363.6 560.2,362.2Z" fill="#d4963f" stroke="#e88a2e" stroke-width="0.6"/>
<path d="M560.5,358.2 C572,360.0 585,362.6 593.8,364.4" stroke="#b9822f" stroke-width="0.5" fill="none"/>
<path d="M559.8,364.9 C570,365.9 585,368.4 594,370.4 L593.6,377.2 C583,375.8 570,373.2 560.2,371.8Z" fill="#d4963f" stroke="#e88a2e" stroke-width="0.6"/>
<path d="M560.5,367.8 C572,369.6 585,372.2 593.8,374.1" stroke="#b9822f" stroke-width="0.5" fill="none"/>
<ellipse cx="577.2" cy="369.9" rx="2.6" ry="1.5" fill="#fff"/>
<path d="M559.8,374.6 C570,375.6 585,378.1 594,380.1 L593.6,386.9 C583,385.4 570,382.9 560.2,381.5Z" fill="#d4963f" stroke="#e88a2e" stroke-width="0.6"/>
<path d="M560.5,377.5 C572,379.3 585,381.9 593.8,383.7" stroke="#b9822f" stroke-width="0.5" fill="none"/>
<ellipse cx="581.9" cy="379.6" rx="2.6" ry="1.5" fill="#fff"/>
<path d="M559.8,384.2 C570,385.2 585,387.8 594,389.8 L593.6,396.6 C583,395.1 570,392.6 560.2,391.1Z" fill="#d4963f" stroke="#e88a2e" stroke-width="0.6"/>
<path d="M560.5,387.1 C572,388.9 585,391.6 593.8,393.4" stroke="#b9822f" stroke-width="0.5" fill="none"/>
<path d="M559.8,393.9 C570,394.9 585,397.4 594,399.4 L593.6,406.2 C583,404.7 570,402.2 560.2,400.8Z" fill="#d4963f" stroke="#e88a2e" stroke-width="0.6"/>
<path d="M560.5,396.8 C572,398.6 585,401.2 593.8,403.0" stroke="#b9822f" stroke-width="0.5" fill="none"/>
<ellipse cx="566.2" cy="398.9" rx="2.6" ry="1.5" fill="#fff"/>
<path d="M559.8,403.6 C570,404.6 585,407.1 594,409.1 L593.6,415.9 C583,414.4 570,411.9 560.2,410.4Z" fill="#d4963f" stroke="#e88a2e" stroke-width="0.6"/>
<path d="M560.5,406.4 C572,408.2 585,410.9 593.8,412.7" stroke="#b9822f" stroke-width="0.5" fill="none"/>
<ellipse cx="569.9" cy="408.6" rx="2.6" ry="1.5" fill="#fff"/>
<path d="M559.8,413.2 C570,414.2 585,416.7 594,418.7 L593.6,425.5 C583,424.0 570,421.5 560.2,420.1Z" fill="#d4963f" stroke="#e88a2e" stroke-width="0.6"/>
<path d="M560.5,416.1 C572,417.9 585,420.5 593.8,422.3" stroke="#b9822f" stroke-width="0.5" fill="none"/>
<path d="M559.8,422.9 C570,423.9 585,426.4 594,428.4 L593.6,435.2 C583,433.7 570,431.2 560.2,429.8Z" fill="#d4963f" stroke="#e88a2e" stroke-width="0.6"/>
<path d="M560.5,425.8 C572,427.6 585,430.2 593.8,432.0" stroke="#b9822f" stroke-width="0.5" fill="none"/>
<ellipse cx="564.5" cy="427.9" rx="2.6" ry="1.5" fill="#fff"/>
<path d="M559.8,432.5 C570,433.5 585,436.0 594,438.0 L593.6,444.8 C583,443.3 570,440.8 560.2,439.4Z" fill="#d4963f" stroke="#e88a2e" stroke-width="0.6"/>
<path d="M560.5,435.4 C572,437.2 585,439.8 593.8,441.6" stroke="#b9822f" stroke-width="0.5" fill="none"/>
<ellipse cx="573.8" cy="437.5" rx="2.6" ry="1.5" fill="#fff"/>
<path d="M571.8,388.8 L519.5,427.8" stroke="#4f79b8" stroke-width="1"/><path d="M517.7,429 L521.5,424.5 L523.2,427.3Z" fill="#4f79b8"/>
<path d="M577,459.2 L580,469.5" stroke="#4f79b8" stroke-width="1"/><path d="M580.5,471.8 L577.8,467.6 L581.6,467Z" fill="#4f79b8"/>
<text x="334.8" y="277" font-size="7" font-weight="bold" fill="#1a1a1a" text-anchor="start" textLength="64.5" lengthAdjust="spacingAndGlyphs" >Working electrode</text>
<text x="441" y="277" font-size="7" font-weight="bold" fill="#1a1a1a" text-anchor="start" textLength="65" lengthAdjust="spacingAndGlyphs" >Ag/AgCl reference</text>
<text x="540.4" y="278.6" font-size="7" font-weight="bold" fill="#1a1a1a" text-anchor="start" textLength="62.8" lengthAdjust="spacingAndGlyphs" >Counter electrode</text>
<text x="445.6" y="371" font-size="10" font-weight="bold" fill="#111">Li<tspan font-size="6.5" dy="-4">+</tspan></text>
<text x="520.5" y="371" font-size="10" font-weight="bold" fill="#111">Cu<tspan font-size="6.5" dy="-4">2+</tspan></text>
<text x="466.8" y="440.6" font-size="8" font-weight="bold" fill="#111" text-anchor="start" textLength="103" lengthAdjust="spacingAndGlyphs" >Cu wires pitting corrosion</text>
<text x="578" y="479.5" font-size="7" font-weight="bold" fill="#111" text-anchor="start" textLength="6.5" lengthAdjust="spacingAndGlyphs" >Ti</text>
<rect x="66.7" y="501.2" width="228.60" height="160.00" fill="none" stroke="#8a8a8a" stroke-width="1.1"/>
<line x1="66.7" y1="661.30" x2="68.5" y2="661.30" stroke="#8a8a8a" stroke-width="1"/>
<text x="61.6" y="664.5999999999999" font-size="9.1" font-weight="normal" fill="#333" text-anchor="end" >0.0</text>
<line x1="66.7" y1="632.18" x2="68.5" y2="632.18" stroke="#8a8a8a" stroke-width="1"/>
<text x="61.6" y="635.4799999999999" font-size="9.1" font-weight="normal" fill="#333" text-anchor="end" >0.4</text>
<line x1="66.7" y1="603.06" x2="68.5" y2="603.06" stroke="#8a8a8a" stroke-width="1"/>
<text x="61.6" y="606.3599999999999" font-size="9.1" font-weight="normal" fill="#333" text-anchor="end" >0.8</text>
<line x1="66.7" y1="573.94" x2="68.5" y2="573.94" stroke="#8a8a8a" stroke-width="1"/>
<text x="61.6" y="577.2399999999999" font-size="9.1" font-weight="normal" fill="#333" text-anchor="end" >1.2</text>
<line x1="66.7" y1="544.82" x2="68.5" y2="544.82" stroke="#8a8a8a" stroke-width="1"/>
<text x="61.6" y="548.1199999999999" font-size="9.1" font-weight="normal" fill="#333" text-anchor="end" >1.6</text>
<line x1="66.7" y1="515.70" x2="68.5" y2="515.70" stroke="#8a8a8a" stroke-width="1"/>
<text x="61.6" y="518.9999999999999" font-size="9.1" font-weight="normal" fill="#333" text-anchor="end" >2.0</text>
<line x1="72.40" y1="661.2" x2="72.40" y2="659.4000000000001" stroke="#8a8a8a" stroke-width="1"/>
<text x="72.4" y="674" font-size="9.1" font-weight="normal" fill="#333" text-anchor="middle" >0</text>
<line x1="105.91" y1="661.2" x2="105.91" y2="659.4000000000001" stroke="#8a8a8a" stroke-width="1"/>
<text x="105.91" y="674" font-size="9.1" font-weight="normal" fill="#333" text-anchor="middle" >300</text>
<line x1="139.42" y1="661.2" x2="139.42" y2="659.4000000000001" stroke="#8a8a8a" stroke-width="1"/>
<text x="139.42000000000002" y="674" font-size="9.1" font-weight="normal" fill="#333" text-anchor="middle" >600</text>
<line x1="172.93" y1="661.2" x2="172.93" y2="659.4000000000001" stroke="#8a8a8a" stroke-width="1"/>
<text x="172.93" y="674" font-size="9.1" font-weight="normal" fill="#333" text-anchor="middle" >900</text>
<line x1="206.44" y1="661.2" x2="206.44" y2="659.4000000000001" stroke="#8a8a8a" stroke-width="1"/>
<text x="206.44" y="674" font-size="9.1" font-weight="normal" fill="#333" text-anchor="middle" >1200</text>
<line x1="239.95" y1="661.2" x2="239.95" y2="659.4000000000001" stroke="#8a8a8a" stroke-width="1"/>
<text x="239.95" y="674" font-size="9.1" font-weight="normal" fill="#333" text-anchor="middle" >1500</text>
<line x1="273.46" y1="661.2" x2="273.46" y2="659.4000000000001" stroke="#8a8a8a" stroke-width="1"/>
<text x="273.46000000000004" y="674" font-size="9.1" font-weight="normal" fill="#333" text-anchor="middle" >1800</text>
<path d="M73.07,579.04 C73.09,583.04 73.13,596.87 73.18,603.06 C73.24,609.25 73.26,613.13 73.41,616.16 C73.55,619.20 73.37,619.80 74.08,621.26 C74.78,622.72 76.07,623.75 77.65,624.90 C79.23,626.05 81.67,627.21 83.57,628.18 C85.47,629.15 85.84,629.74 89.04,630.72 C92.25,631.71 97.63,632.93 102.78,634.07 C107.94,635.21 113.88,636.43 119.98,637.57 C126.09,638.71 132.76,639.82 139.42,640.92 C146.08,642.01 153.55,643.15 159.97,644.12 C166.40,645.09 172.07,646.06 177.96,646.74 C183.84,647.42 188.75,647.77 195.27,648.20 C201.79,648.62 207.74,648.92 217.05,649.29 C226.36,649.65 240.19,650.08 251.12,650.38 C262.05,650.68 277.37,650.99 282.62,651.11" stroke="#d42a2a" stroke-width="1.5" fill="none"/>
<path d="M72.40,628.18 C73.27,627.63 74.67,625.81 77.65,624.90 C80.63,623.99 86.49,623.50 90.27,622.72 C94.05,621.93 95.37,620.97 100.33,620.17 C105.28,619.37 113.47,618.88 119.98,617.91 C126.50,616.94 132.76,615.61 139.42,614.34 C146.08,613.08 151.52,612.22 159.97,610.34 C168.42,608.46 182.39,605.24 190.13,603.06 C197.88,600.88 200.43,599.78 206.44,597.24 C212.45,594.69 220.63,590.93 226.21,587.77 C231.80,584.62 235.80,581.58 239.95,578.31 C244.10,575.03 247.40,572.48 251.12,568.12 C254.84,563.75 258.94,557.44 262.29,552.10 C265.64,546.76 268.43,541.06 271.23,536.08 C274.02,531.11 277.15,525.77 279.04,522.25 C280.94,518.73 282.02,516.19 282.62,514.97" stroke="#111" stroke-width="1.8" fill="none"/>
<path d="M100.33,620.33 L100.77,620.66 L101.22,619.52 L101.67,620.73 L102.11,619.67 L102.56,619.99 L103.01,620.62 L103.45,619.59 L103.90,620.56 L104.35,619.65 L104.79,620.39 L105.24,620.30 L105.69,619.52 L106.13,618.59 L106.58,620.08 L107.03,619.81 L107.47,618.88 L107.92,618.13 L108.37,618.89 L108.81,619.23 L109.26,617.92 L109.71,619.90 L110.15,618.07 L110.60,619.27 L111.05,619.54 L111.50,619.54 L111.94,619.08 L112.39,617.92 L112.84,619.26 L113.28,618.33 L113.73,618.16 L114.18,618.69 L114.62,618.26 L115.07,619.27 L115.52,619.22 L115.96,618.85 L116.41,617.77 L116.86,618.27 L117.30,618.47 L117.75,617.83" stroke="#111" stroke-width="1.3" fill="none"/>
<line x1="76.6" y1="520.2" x2="98" y2="520.2" stroke="#111" stroke-width="1.6"/>
<line x1="76.6" y1="534.5" x2="98" y2="534.5" stroke="#d42a2a" stroke-width="1.5"/>
<text x="103" y="522.9" font-size="9" fill="#222" textLength="157.5" lengthAdjust="spacingAndGlyphs">1<tspan font-size="5.5" dy="-3.5">st</tspan><tspan dy="3.5">charge curve of Si in MnO</tspan><tspan font-size="5.5" dy="2">x</tspan><tspan dy="-2">/Si full cell</tspan></text>
<text x="103" y="537.2" font-size="9" fill="#222" textLength="168.5" lengthAdjust="spacingAndGlyphs">1<tspan font-size="5.5" dy="-3.5">st</tspan><tspan dy="3.5">discharge curve of Si in MnO</tspan><tspan font-size="5.5" dy="2">x</tspan><tspan dy="-2">/Si full cell</tspan></text>
<path d="M72,637 L72,631.5" stroke="#4aa3e0" stroke-width="1.6"/><path d="M69.8,632.2 L72,628.6 L74.2,632.2Z" fill="#4aa3e0"/>
<text x="69.1" y="643.6" font-size="8.8" font-weight="normal" fill="#222" text-anchor="start" >0.43 V</text>
<text x="139.8" y="689.8" font-size="10.2" fill="#222">Capacity (mAh g<tspan font-size="6.2" dy="-3.8">-1</tspan><tspan font-size="6.2" dx="-5.5" dy="6.5">Si</tspan><tspan dy="-2.7">)</tspan></text>
<text font-size="10.2" fill="#222" text-anchor="middle" textLength="93" lengthAdjust="spacingAndGlyphs" transform="translate(42,580.7) rotate(-90)">Potential (V vs Li/Li<tspan font-size="6.2" dy="-5">+</tspan><tspan dy="5">)</tspan></text>
<path d="M380.30,605.90 L470.00,615.20 L552.40,625.00 L595.10,632.50 L595.10,667.60 L380.30,667.60Z" fill="#a9d6e1"/>
<path d="M380.30,529.90 L470.00,536.30 L507.80,539.60 L523.50,543.50 L537.70,549.00 L551.80,559.20 L565.90,568.70 L584.80,579.70 L567.50,579.70 L559.70,571.80 L547.10,564.00 L531.40,555.30 L515.70,550.60 L500.00,549.00 L470.00,545.80 L380.30,539.30Z" fill="#a6d49f"/>
<path d="M380.30,551.80 L420.00,557.60 L470.00,565.40 L500.00,572.60 L515.70,576.50 L531.40,582.80 L551.80,592.20 L569.00,610.30 L551.80,611.00 L542.40,603.20 L523.50,593.80 L500.00,587.50 L470.00,579.20 L420.00,570.70 L380.30,562.40Z" fill="#ede860"/>
<line x1="380.3" y1="508.3" x2="595.1" y2="508.3" stroke="#555" stroke-width="1.2"/>
<line x1="595.1" y1="508.3" x2="595.1" y2="667.6" stroke="#555" stroke-width="1.2"/>
<line x1="380.3" y1="508.3" x2="380.3" y2="667.6" stroke="#999" stroke-width="1.2"/>
<line x1="380.3" y1="667.6" x2="595.1" y2="667.6" stroke="#999" stroke-width="1.2"/>
<line x1="380.3" y1="651.62" x2="381.8" y2="651.62" stroke="#aaa" stroke-width="0.6"/>
<line x1="380.3" y1="642.26" x2="381.8" y2="642.26" stroke="#aaa" stroke-width="0.6"/>
<line x1="380.3" y1="635.63" x2="381.8" y2="635.63" stroke="#aaa" stroke-width="0.6"/>
<line x1="380.3" y1="630.48" x2="381.8" y2="630.48" stroke="#aaa" stroke-width="0.6"/>
<line x1="380.3" y1="626.28" x2="381.8" y2="626.28" stroke="#aaa" stroke-width="0.6"/>
<line x1="380.3" y1="622.73" x2="381.8" y2="622.73" stroke="#aaa" stroke-width="0.6"/>
<line x1="380.3" y1="619.65" x2="381.8" y2="619.65" stroke="#aaa" stroke-width="0.6"/>
<line x1="380.3" y1="616.93" x2="381.8" y2="616.93" stroke="#aaa" stroke-width="0.6"/>
<line x1="380.3" y1="598.52" x2="381.8" y2="598.52" stroke="#aaa" stroke-width="0.6"/>
<line x1="380.3" y1="589.16" x2="381.8" y2="589.16" stroke="#aaa" stroke-width="0.6"/>
<line x1="380.3" y1="582.53" x2="381.8" y2="582.53" stroke="#aaa" stroke-width="0.6"/>
<line x1="380.3" y1="577.38" x2="381.8" y2="577.38" stroke="#aaa" stroke-width="0.6"/>
<line x1="380.3" y1="573.18" x2="381.8" y2="573.18" stroke="#aaa" stroke-width="0.6"/>
<line x1="380.3" y1="569.63" x2="381.8" y2="569.63" stroke="#aaa" stroke-width="0.6"/>
<line x1="380.3" y1="566.55" x2="381.8" y2="566.55" stroke="#aaa" stroke-width="0.6"/>
<line x1="380.3" y1="563.83" x2="381.8" y2="563.83" stroke="#aaa" stroke-width="0.6"/>
<line x1="380.3" y1="545.42" x2="381.8" y2="545.42" stroke="#aaa" stroke-width="0.6"/>
<line x1="380.3" y1="536.06" x2="381.8" y2="536.06" stroke="#aaa" stroke-width="0.6"/>
<line x1="380.3" y1="529.43" x2="381.8" y2="529.43" stroke="#aaa" stroke-width="0.6"/>
<line x1="380.3" y1="524.28" x2="381.8" y2="524.28" stroke="#aaa" stroke-width="0.6"/>
<line x1="380.3" y1="520.08" x2="381.8" y2="520.08" stroke="#aaa" stroke-width="0.6"/>
<line x1="380.3" y1="516.53" x2="381.8" y2="516.53" stroke="#aaa" stroke-width="0.6"/>
<line x1="380.3" y1="513.45" x2="381.8" y2="513.45" stroke="#aaa" stroke-width="0.6"/>
<line x1="380.3" y1="510.73" x2="381.8" y2="510.73" stroke="#aaa" stroke-width="0.6"/>
<text x="374.3" y="670.8000000000001" font-size="8.8" font-weight="normal" fill="#333" text-anchor="end" >1</text>
<text x="374.3" y="617.7" font-size="8.8" font-weight="normal" fill="#333" text-anchor="end" >10</text>
<text x="374.3" y="564.6" font-size="8.8" font-weight="normal" fill="#333" text-anchor="end" >100</text>
<text x="374.3" y="511.5" font-size="8.8" font-weight="normal" fill="#333" text-anchor="end" >1000</text>
<text x="380.3" y="679.6" font-size="8.8" font-weight="normal" fill="#333" text-anchor="middle" >10</text>
<text x="465.1" y="679.6" font-size="8.8" font-weight="normal" fill="#333" text-anchor="middle" >100</text>
<text x="549.9" y="679.6" font-size="8.8" font-weight="normal" fill="#333" text-anchor="middle" >1000</text>
<path d="M406.20,532.80 L472.20,539.70 L497.60,543.50 L523.50,546.70 L549.00,549.80 L573.80,554.50" stroke="#d92b2b" stroke-width="1.1" fill="none"/>
<circle cx="406.2" cy="532.8" r="1.6" fill="#d92b2b"/>
<circle cx="472.2" cy="539.7" r="1.6" fill="#d92b2b"/>
<circle cx="497.6" cy="543.5" r="1.6" fill="#d92b2b"/>
<circle cx="523.5" cy="546.7" r="1.6" fill="#d92b2b"/>
<circle cx="549" cy="549.8" r="1.6" fill="#d92b2b"/>
<circle cx="573.8" cy="554.5" r="1.6" fill="#d92b2b"/>
<text x="423" y="544" font-size="13" font-weight="normal" fill="#327a3c" text-anchor="start" textLength="26.4" lengthAdjust="spacingAndGlyphs" >LIBs</text>
<text x="411.8" y="569.5" font-size="10.5" font-weight="normal" fill="#c0903c" text-anchor="start" textLength="29" lengthAdjust="spacingAndGlyphs" >Ni/MH</text>
<text x="424.6" y="520.2" font-size="10.5" font-weight="normal" fill="#8b3a9e">+</text><text x="434" y="520" font-size="11" font-weight="bold" fill="#8b3a9e" textLength="20.6" lengthAdjust="spacingAndGlyphs">S/Si</text>
<text x="545.5" y="544.8" font-size="11.5" font-weight="bold" fill="#d92b2b" textLength="39" lengthAdjust="spacingAndGlyphs">MnO<tspan font-size="8" dy="2" font-style="italic">x</tspan><tspan dy="-2">/Si</tspan></text>
<text x="405.5" y="642.3" font-size="11" font-weight="normal" fill="#3a50c8" text-anchor="start" textLength="74" lengthAdjust="spacingAndGlyphs" >Supercapacitors</text>
<text x="439.4" y="692.2" font-size="10.8" fill="#222" textLength="108" lengthAdjust="spacingAndGlyphs">Specific power (W kg<tspan font-size="6.5" dy="-3.8">-1</tspan><tspan dy="3.8">)</tspan></text>
<text font-size="10.5" fill="#222" text-anchor="middle" textLength="117" lengthAdjust="spacingAndGlyphs" transform="translate(356.3,588) rotate(-90)">Specific energy (Wh kg<tspan font-size="6.5" dy="-3.8">-1</tspan><tspan dy="3.8">)</tspan></text>
</svg></body></html>
